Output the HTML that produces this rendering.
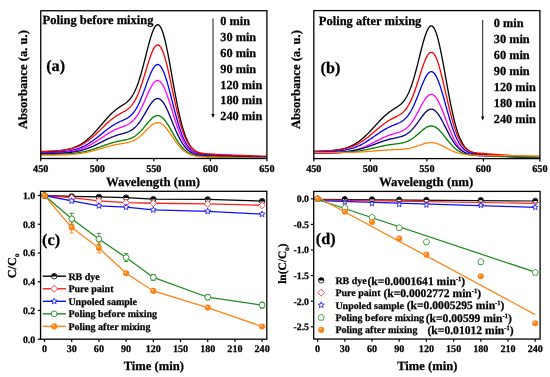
<!DOCTYPE html>
<html><head><meta charset="utf-8"><style>
html,body{margin:0;padding:0;background:#fff;width:550px;height:377px;overflow:hidden}
svg{display:block;filter:blur(0.3px)} text{text-rendering:geometricPrecision}
</style></head><body>
<svg width="550" height="377" viewBox="0 0 550 377">
<rect width="550" height="377" fill="#fff"/>
<path d="M40.8,151.69 L41.8,151.67 L42.8,151.65 L43.8,151.62 L44.8,151.59 L45.8,151.56 L46.8,151.53 L47.8,151.50 L48.8,151.46 L49.8,151.42 L50.8,151.37 L51.8,151.32 L52.8,151.26 L53.8,151.20 L54.8,151.13 L55.8,151.06 L56.8,150.98 L57.8,150.89 L58.8,150.79 L59.8,150.68 L60.8,150.56 L61.8,150.43 L62.8,150.29 L63.8,150.14 L64.8,149.97 L65.8,149.78 L66.8,149.58 L67.8,149.35 L68.8,149.11 L69.8,148.85 L70.8,148.57 L71.8,148.26 L72.8,147.93 L73.8,147.57 L74.8,147.18 L75.8,146.76 L76.8,146.32 L77.8,145.84 L78.8,145.33 L79.8,144.78 L80.8,144.20 L81.8,143.58 L82.8,142.93 L83.8,142.24 L84.8,141.51 L85.8,140.75 L86.8,139.95 L87.8,139.11 L88.8,138.23 L89.8,137.32 L90.8,136.37 L91.8,135.39 L92.8,134.38 L93.8,133.34 L94.8,132.27 L95.8,131.18 L96.8,130.06 L97.8,128.93 L98.8,127.78 L99.8,126.62 L100.8,125.45 L101.8,124.28 L102.8,123.11 L103.8,121.94 L104.8,120.78 L105.8,119.64 L106.8,118.52 L107.8,117.42 L108.8,116.34 L109.8,115.30 L110.8,114.29 L111.8,113.32 L112.8,112.39 L113.8,111.50 L114.8,110.65 L115.8,109.84 L116.8,109.07 L117.8,108.34 L118.8,107.64 L119.8,106.96 L120.8,106.31 L121.8,105.66 L122.8,105.01 L123.8,104.35 L124.8,103.66 L125.8,102.93 L126.8,102.14 L127.8,101.27 L128.8,100.30 L129.8,99.21 L130.8,97.98 L131.8,96.59 L132.8,95.02 L133.8,93.26 L134.8,91.29 L135.8,89.10 L136.8,86.68 L137.8,84.03 L138.8,81.14 L139.8,78.03 L140.8,74.70 L141.8,71.18 L142.8,67.49 L143.8,63.67 L144.8,59.75 L145.8,55.78 L146.8,51.82 L147.8,47.90 L148.8,44.10 L149.8,40.47 L150.8,37.08 L151.8,33.99 L152.8,31.25 L153.8,28.92 L154.8,27.07 L155.8,25.72 L156.8,24.91 L157.8,24.68 L158.8,25.05 L159.8,26.02 L160.8,27.59 L161.8,29.75 L162.8,32.47 L163.8,35.74 L164.8,39.49 L165.8,43.70 L166.8,48.30 L167.8,53.23 L168.8,58.44 L169.8,63.85 L170.8,69.41 L171.8,75.04 L172.8,80.70 L173.8,86.31 L174.8,91.82 L175.8,97.20 L176.8,102.39 L177.8,107.35 L178.8,112.07 L179.8,116.52 L180.8,120.68 L181.8,124.54 L182.8,128.10 L183.8,131.36 L184.8,134.32 L185.8,136.99 L186.8,139.39 L187.8,141.52 L188.8,143.42 L189.8,145.08 L190.8,146.54 L191.8,147.81 L192.8,148.91 L193.8,149.86 L194.8,150.67 L195.8,151.37 L196.8,151.96 L197.8,152.45 L198.8,152.88 L199.8,153.23 L200.8,153.53 L201.8,153.78 L202.8,154.00 L203.8,154.18 L204.8,154.33 L205.8,154.46 L206.8,154.57 L207.8,154.66 L208.8,154.75 L209.8,154.82 L210.8,154.88 L211.8,154.95 L212.8,155.01 L213.8,155.07 L214.8,155.13 L215.8,155.18 L216.8,155.23 L217.8,155.28 L218.8,155.33 L219.8,155.37 L220.8,155.42 L221.8,155.46 L222.8,155.50 L223.8,155.54 L224.8,155.58 L225.8,155.62 L226.8,155.66 L227.8,155.70 L228.8,155.74 L229.8,155.78 L230.8,155.82 L231.8,155.85 L232.8,155.89 L233.8,155.93 L234.8,155.96 L235.8,156.00 L236.8,156.03 L237.8,156.07 L238.8,156.10 L239.8,156.14 L240.8,156.17 L241.8,156.20 L242.8,156.24 L243.8,156.27 L244.8,156.30 L245.8,156.34 L246.8,156.37 L247.8,156.40 L248.8,156.43 L249.8,156.46 L250.8,156.49 L251.8,156.52 L252.8,156.56 L253.8,156.59 L254.8,156.62 L255.8,156.65 L256.8,156.68 L257.8,156.71 L258.8,156.74 L259.8,156.76 L260.8,156.79 L261.8,156.82 L262.8,156.85 L263.8,156.88 L264.8,156.91 L265.8,156.94 L266.8,156.97" fill="none" stroke="#000000" stroke-width="1.3" stroke-linejoin="round"/>
<path d="M40.8,151.44 L41.8,151.42 L42.8,151.40 L43.8,151.38 L44.8,151.35 L45.8,151.33 L46.8,151.30 L47.8,151.27 L48.8,151.24 L49.8,151.20 L50.8,151.16 L51.8,151.12 L52.8,151.07 L53.8,151.02 L54.8,150.96 L55.8,150.90 L56.8,150.83 L57.8,150.75 L58.8,150.67 L59.8,150.58 L60.8,150.48 L61.8,150.37 L62.8,150.25 L63.8,150.12 L64.8,149.97 L65.8,149.82 L66.8,149.64 L67.8,149.46 L68.8,149.26 L69.8,149.03 L70.8,148.80 L71.8,148.54 L72.8,148.26 L73.8,147.95 L74.8,147.63 L75.8,147.28 L76.8,146.90 L77.8,146.50 L78.8,146.07 L79.8,145.61 L80.8,145.13 L81.8,144.61 L82.8,144.06 L83.8,143.48 L84.8,142.87 L85.8,142.23 L86.8,141.56 L87.8,140.85 L88.8,140.12 L89.8,139.35 L90.8,138.56 L91.8,137.74 L92.8,136.89 L93.8,136.02 L94.8,135.12 L95.8,134.20 L96.8,133.27 L97.8,132.31 L98.8,131.35 L99.8,130.38 L100.8,129.40 L101.8,128.41 L102.8,127.43 L103.8,126.45 L104.8,125.48 L105.8,124.52 L106.8,123.58 L107.8,122.66 L108.8,121.76 L109.8,120.88 L110.8,120.04 L111.8,119.22 L112.8,118.44 L113.8,117.69 L114.8,116.98 L115.8,116.30 L116.8,115.65 L117.8,115.04 L118.8,114.45 L119.8,113.88 L120.8,113.33 L121.8,112.79 L122.8,112.25 L123.8,111.69 L124.8,111.12 L125.8,110.50 L126.8,109.84 L127.8,109.10 L128.8,108.29 L129.8,107.38 L130.8,106.34 L131.8,105.18 L132.8,103.87 L133.8,102.39 L134.8,100.74 L135.8,98.90 L136.8,96.87 L137.8,94.65 L138.8,92.22 L139.8,89.61 L140.8,86.83 L141.8,83.87 L142.8,80.78 L143.8,77.58 L144.8,74.29 L145.8,70.97 L146.8,67.64 L147.8,64.36 L148.8,61.17 L149.8,58.13 L150.8,55.28 L151.8,52.69 L152.8,50.39 L153.8,48.45 L154.8,46.89 L155.8,45.75 L156.8,45.08 L157.8,44.89 L158.8,45.19 L159.8,46.00 L160.8,47.32 L161.8,49.13 L162.8,51.41 L163.8,54.15 L164.8,57.30 L165.8,60.82 L166.8,64.68 L167.8,68.81 L168.8,73.17 L169.8,77.71 L170.8,82.37 L171.8,87.09 L172.8,91.83 L173.8,96.53 L174.8,101.15 L175.8,105.66 L176.8,110.00 L177.8,114.17 L178.8,118.12 L179.8,121.85 L180.8,125.34 L181.8,128.57 L182.8,131.55 L183.8,134.28 L184.8,136.76 L185.8,139.00 L186.8,141.01 L187.8,142.80 L188.8,144.39 L189.8,145.78 L190.8,147.01 L191.8,148.07 L192.8,148.99 L193.8,149.79 L194.8,150.47 L195.8,151.05 L196.8,151.54 L197.8,151.96 L198.8,152.31 L199.8,152.61 L200.8,152.86 L201.8,153.07 L202.8,153.25 L203.8,153.39 L204.8,153.52 L205.8,153.63 L206.8,153.72 L207.8,153.80 L208.8,153.87 L209.8,153.93 L210.8,153.98 L211.8,154.05 L212.8,154.11 L213.8,154.17 L214.8,154.23 L215.8,154.28 L216.8,154.33 L217.8,154.38 L218.8,154.43 L219.8,154.48 L220.8,154.53 L221.8,154.57 L222.8,154.62 L223.8,154.66 L224.8,154.71 L225.8,154.75 L226.8,154.79 L227.8,154.83 L228.8,154.88 L229.8,154.92 L230.8,154.96 L231.8,155.00 L232.8,155.04 L233.8,155.08 L234.8,155.12 L235.8,155.16 L236.8,155.20 L237.8,155.24 L238.8,155.28 L239.8,155.31 L240.8,155.35 L241.8,155.39 L242.8,155.43 L243.8,155.46 L244.8,155.50 L245.8,155.54 L246.8,155.58 L247.8,155.61 L248.8,155.65 L249.8,155.68 L250.8,155.72 L251.8,155.75 L252.8,155.79 L253.8,155.83 L254.8,155.86 L255.8,155.90 L256.8,155.93 L257.8,155.96 L258.8,156.00 L259.8,156.03 L260.8,156.07 L261.8,156.10 L262.8,156.14 L263.8,156.17 L264.8,156.20 L265.8,156.24 L266.8,156.27" fill="none" stroke="#ff0000" stroke-width="1.3" stroke-linejoin="round"/>
<path d="M40.8,152.66 L41.8,152.65 L42.8,152.64 L43.8,152.63 L44.8,152.61 L45.8,152.59 L46.8,152.58 L47.8,152.55 L48.8,152.53 L49.8,152.50 L50.8,152.48 L51.8,152.44 L52.8,152.41 L53.8,152.37 L54.8,152.32 L55.8,152.28 L56.8,152.22 L57.8,152.16 L58.8,152.10 L59.8,152.03 L60.8,151.95 L61.8,151.86 L62.8,151.76 L63.8,151.66 L64.8,151.54 L65.8,151.42 L66.8,151.28 L67.8,151.13 L68.8,150.96 L69.8,150.78 L70.8,150.59 L71.8,150.38 L72.8,150.15 L73.8,149.90 L74.8,149.63 L75.8,149.35 L76.8,149.04 L77.8,148.71 L78.8,148.36 L79.8,147.98 L80.8,147.58 L81.8,147.15 L82.8,146.70 L83.8,146.22 L84.8,145.72 L85.8,145.19 L86.8,144.63 L87.8,144.05 L88.8,143.44 L89.8,142.81 L90.8,142.15 L91.8,141.47 L92.8,140.77 L93.8,140.05 L94.8,139.31 L95.8,138.55 L96.8,137.77 L97.8,136.98 L98.8,136.19 L99.8,135.38 L100.8,134.57 L101.8,133.75 L102.8,132.94 L103.8,132.13 L104.8,131.33 L105.8,130.53 L106.8,129.75 L107.8,128.99 L108.8,128.25 L109.8,127.52 L110.8,126.82 L111.8,126.15 L112.8,125.50 L113.8,124.88 L114.8,124.29 L115.8,123.73 L116.8,123.20 L117.8,122.69 L118.8,122.21 L119.8,121.74 L120.8,121.28 L121.8,120.84 L122.8,120.39 L123.8,119.93 L124.8,119.46 L125.8,118.95 L126.8,118.40 L127.8,117.79 L128.8,117.12 L129.8,116.36 L130.8,115.51 L131.8,114.55 L132.8,113.46 L133.8,112.23 L134.8,110.86 L135.8,109.34 L136.8,107.65 L137.8,105.80 L138.8,103.79 L139.8,101.63 L140.8,99.31 L141.8,96.86 L142.8,94.29 L143.8,91.63 L144.8,88.90 L145.8,86.14 L146.8,83.37 L147.8,80.64 L148.8,78.00 L149.8,75.47 L150.8,73.11 L151.8,70.95 L152.8,69.05 L153.8,67.43 L154.8,66.14 L155.8,65.20 L156.8,64.64 L157.8,64.49 L158.8,64.74 L159.8,65.42 L160.8,66.52 L161.8,68.03 L162.8,69.94 L163.8,72.21 L164.8,74.84 L165.8,77.78 L166.8,80.99 L167.8,84.43 L168.8,88.07 L169.8,91.84 L170.8,95.72 L171.8,99.66 L172.8,103.60 L173.8,107.52 L174.8,111.37 L175.8,115.12 L176.8,118.74 L177.8,122.21 L178.8,125.50 L179.8,128.61 L180.8,131.51 L181.8,134.21 L182.8,136.69 L183.8,138.97 L184.8,141.04 L185.8,142.90 L186.8,144.58 L187.8,146.07 L188.8,147.40 L189.8,148.56 L190.8,149.58 L191.8,150.47 L192.8,151.24 L193.8,151.91 L194.8,152.48 L195.8,152.97 L196.8,153.38 L197.8,153.73 L198.8,154.03 L199.8,154.28 L200.8,154.49 L201.8,154.67 L202.8,154.82 L203.8,154.95 L204.8,155.06 L205.8,155.15 L206.8,155.24 L207.8,155.31 L208.8,155.37 L209.8,155.42 L210.8,155.47 L211.8,155.52 L212.8,155.57 L213.8,155.62 L214.8,155.66 L215.8,155.70 L216.8,155.74 L217.8,155.78 L218.8,155.81 L219.8,155.85 L220.8,155.89 L221.8,155.92 L222.8,155.96 L223.8,155.99 L224.8,156.02 L225.8,156.05 L226.8,156.09 L227.8,156.12 L228.8,156.15 L229.8,156.18 L230.8,156.21 L231.8,156.24 L232.8,156.27 L233.8,156.30 L234.8,156.33 L235.8,156.36 L236.8,156.39 L237.8,156.42 L238.8,156.45 L239.8,156.48 L240.8,156.50 L241.8,156.53 L242.8,156.56 L243.8,156.59 L244.8,156.61 L245.8,156.64 L246.8,156.67 L247.8,156.69 L248.8,156.72 L249.8,156.75 L250.8,156.77 L251.8,156.80 L252.8,156.83 L253.8,156.85 L254.8,156.88 L255.8,156.90 L256.8,156.93 L257.8,156.95 L258.8,156.98 L259.8,157.00 L260.8,157.03 L261.8,157.05 L262.8,157.08 L263.8,157.10 L264.8,157.13 L265.8,157.15 L266.8,157.18" fill="none" stroke="#0000ff" stroke-width="1.3" stroke-linejoin="round"/>
<path d="M40.8,153.27 L41.8,153.27 L42.8,153.26 L43.8,153.25 L44.8,153.23 L45.8,153.22 L46.8,153.20 L47.8,153.19 L48.8,153.17 L49.8,153.15 L50.8,153.12 L51.8,153.10 L52.8,153.07 L53.8,153.03 L54.8,153.00 L55.8,152.96 L56.8,152.92 L57.8,152.87 L58.8,152.81 L59.8,152.75 L60.8,152.69 L61.8,152.62 L62.8,152.54 L63.8,152.45 L64.8,152.36 L65.8,152.25 L66.8,152.14 L67.8,152.01 L68.8,151.88 L69.8,151.73 L70.8,151.57 L71.8,151.40 L72.8,151.21 L73.8,151.00 L74.8,150.78 L75.8,150.55 L76.8,150.29 L77.8,150.02 L78.8,149.73 L79.8,149.42 L80.8,149.09 L81.8,148.73 L82.8,148.36 L83.8,147.97 L84.8,147.55 L85.8,147.11 L86.8,146.66 L87.8,146.18 L88.8,145.67 L89.8,145.15 L90.8,144.61 L91.8,144.05 L92.8,143.47 L93.8,142.87 L94.8,142.26 L95.8,141.63 L96.8,140.99 L97.8,140.34 L98.8,139.68 L99.8,139.02 L100.8,138.35 L101.8,137.68 L102.8,137.01 L103.8,136.34 L104.8,135.67 L105.8,135.02 L106.8,134.38 L107.8,133.74 L108.8,133.13 L109.8,132.53 L110.8,131.95 L111.8,131.40 L112.8,130.86 L113.8,130.35 L114.8,129.87 L115.8,129.40 L116.8,128.96 L117.8,128.55 L118.8,128.14 L119.8,127.76 L120.8,127.38 L121.8,127.02 L122.8,126.65 L123.8,126.27 L124.8,125.88 L125.8,125.46 L126.8,125.00 L127.8,124.50 L128.8,123.95 L129.8,123.32 L130.8,122.62 L131.8,121.82 L132.8,120.92 L133.8,119.91 L134.8,118.78 L135.8,117.52 L136.8,116.13 L137.8,114.61 L138.8,112.95 L139.8,111.16 L140.8,109.24 L141.8,107.22 L142.8,105.10 L143.8,102.90 L144.8,100.65 L145.8,98.36 L146.8,96.08 L147.8,93.83 L148.8,91.64 L149.8,89.56 L150.8,87.61 L151.8,85.83 L152.8,84.25 L153.8,82.92 L154.8,81.85 L155.8,81.08 L156.8,80.62 L157.8,80.49 L158.8,80.70 L159.8,81.26 L160.8,82.17 L161.8,83.42 L162.8,84.99 L163.8,86.87 L164.8,89.04 L165.8,91.47 L166.8,94.12 L167.8,96.96 L168.8,99.96 L169.8,103.09 L170.8,106.29 L171.8,109.54 L172.8,112.80 L173.8,116.03 L174.8,119.21 L175.8,122.31 L176.8,125.30 L177.8,128.17 L178.8,130.89 L179.8,133.45 L180.8,135.85 L181.8,138.08 L182.8,140.13 L183.8,142.01 L184.8,143.72 L185.8,145.26 L186.8,146.64 L187.8,147.88 L188.8,148.97 L189.8,149.93 L190.8,150.78 L191.8,151.51 L192.8,152.15 L193.8,152.70 L194.8,153.17 L195.8,153.57 L196.8,153.91 L197.8,154.21 L198.8,154.45 L199.8,154.66 L200.8,154.84 L201.8,154.98 L202.8,155.11 L203.8,155.22 L204.8,155.31 L205.8,155.38 L206.8,155.45 L207.8,155.51 L208.8,155.56 L209.8,155.60 L210.8,155.64 L211.8,155.69 L212.8,155.74 L213.8,155.78 L214.8,155.82 L215.8,155.85 L216.8,155.89 L217.8,155.93 L218.8,155.96 L219.8,156.00 L220.8,156.03 L221.8,156.06 L222.8,156.09 L223.8,156.13 L224.8,156.16 L225.8,156.19 L226.8,156.22 L227.8,156.25 L228.8,156.28 L229.8,156.31 L230.8,156.34 L231.8,156.37 L232.8,156.40 L233.8,156.42 L234.8,156.45 L235.8,156.48 L236.8,156.51 L237.8,156.54 L238.8,156.56 L239.8,156.59 L240.8,156.62 L241.8,156.65 L242.8,156.67 L243.8,156.70 L244.8,156.73 L245.8,156.75 L246.8,156.78 L247.8,156.81 L248.8,156.83 L249.8,156.86 L250.8,156.88 L251.8,156.91 L252.8,156.93 L253.8,156.96 L254.8,156.98 L255.8,157.01 L256.8,157.03 L257.8,157.06 L258.8,157.08 L259.8,157.11 L260.8,157.13 L261.8,157.16 L262.8,157.18 L263.8,157.21 L264.8,157.23 L265.8,157.26 L266.8,157.28" fill="none" stroke="#ff00ff" stroke-width="1.3" stroke-linejoin="round"/>
<path d="M40.8,153.60 L41.8,153.60 L42.8,153.59 L43.8,153.59 L44.8,153.58 L45.8,153.57 L46.8,153.56 L47.8,153.55 L48.8,153.54 L49.8,153.53 L50.8,153.51 L51.8,153.50 L52.8,153.48 L53.8,153.46 L54.8,153.43 L55.8,153.41 L56.8,153.38 L57.8,153.34 L58.8,153.30 L59.8,153.26 L60.8,153.22 L61.8,153.16 L62.8,153.11 L63.8,153.04 L64.8,152.97 L65.8,152.90 L66.8,152.81 L67.8,152.72 L68.8,152.62 L69.8,152.51 L70.8,152.39 L71.8,152.26 L72.8,152.12 L73.8,151.97 L74.8,151.81 L75.8,151.63 L76.8,151.44 L77.8,151.23 L78.8,151.01 L79.8,150.78 L80.8,150.53 L81.8,150.27 L82.8,149.98 L83.8,149.69 L84.8,149.37 L85.8,149.04 L86.8,148.70 L87.8,148.33 L88.8,147.95 L89.8,147.56 L90.8,147.15 L91.8,146.72 L92.8,146.29 L93.8,145.83 L94.8,145.37 L95.8,144.90 L96.8,144.41 L97.8,143.92 L98.8,143.42 L99.8,142.92 L100.8,142.41 L101.8,141.90 L102.8,141.39 L103.8,140.88 L104.8,140.38 L105.8,139.89 L106.8,139.40 L107.8,138.92 L108.8,138.46 L109.8,138.00 L110.8,137.57 L111.8,137.15 L112.8,136.74 L113.8,136.36 L114.8,135.99 L115.8,135.64 L116.8,135.31 L117.8,134.99 L118.8,134.69 L119.8,134.40 L120.8,134.11 L121.8,133.84 L122.8,133.56 L123.8,133.27 L124.8,132.98 L125.8,132.66 L126.8,132.32 L127.8,131.94 L128.8,131.52 L129.8,131.05 L130.8,130.51 L131.8,129.91 L132.8,129.23 L133.8,128.46 L134.8,127.60 L135.8,126.64 L136.8,125.59 L137.8,124.43 L138.8,123.17 L139.8,121.80 L140.8,120.35 L141.8,118.81 L142.8,117.20 L143.8,115.53 L144.8,113.81 L145.8,112.07 L146.8,110.34 L147.8,108.62 L148.8,106.96 L149.8,105.37 L150.8,103.89 L151.8,102.54 L152.8,101.34 L153.8,100.33 L154.8,99.52 L155.8,98.93 L156.8,98.58 L157.8,98.49 L158.8,98.65 L159.8,99.08 L160.8,99.78 L161.8,100.73 L162.8,101.93 L163.8,103.37 L164.8,105.03 L165.8,106.88 L166.8,108.90 L167.8,111.07 L168.8,113.37 L169.8,115.75 L170.8,118.19 L171.8,120.67 L172.8,123.16 L173.8,125.62 L174.8,128.05 L175.8,130.42 L176.8,132.70 L177.8,134.89 L178.8,136.96 L179.8,138.92 L180.8,140.75 L181.8,142.45 L182.8,144.02 L183.8,145.45 L184.8,146.76 L185.8,147.94 L186.8,149.00 L187.8,149.94 L188.8,150.78 L189.8,151.51 L190.8,152.16 L191.8,152.72 L192.8,153.21 L193.8,153.63 L194.8,153.99 L195.8,154.30 L196.8,154.57 L197.8,154.79 L198.8,154.98 L199.8,155.14 L200.8,155.28 L201.8,155.40 L202.8,155.50 L203.8,155.58 L204.8,155.65 L205.8,155.71 L206.8,155.77 L207.8,155.82 L208.8,155.86 L209.8,155.90 L210.8,155.93 L211.8,155.97 L212.8,156.01 L213.8,156.04 L214.8,156.08 L215.8,156.11 L216.8,156.14 L217.8,156.17 L218.8,156.20 L219.8,156.23 L220.8,156.26 L221.8,156.29 L222.8,156.32 L223.8,156.34 L224.8,156.37 L225.8,156.40 L226.8,156.43 L227.8,156.45 L228.8,156.48 L229.8,156.51 L230.8,156.53 L231.8,156.56 L232.8,156.58 L233.8,156.61 L234.8,156.63 L235.8,156.66 L236.8,156.69 L237.8,156.71 L238.8,156.73 L239.8,156.76 L240.8,156.78 L241.8,156.81 L242.8,156.83 L243.8,156.86 L244.8,156.88 L245.8,156.90 L246.8,156.93 L247.8,156.95 L248.8,156.98 L249.8,157.00 L250.8,157.02 L251.8,157.05 L252.8,157.07 L253.8,157.09 L254.8,157.11 L255.8,157.14 L256.8,157.16 L257.8,157.18 L258.8,157.21 L259.8,157.23 L260.8,157.25 L261.8,157.27 L262.8,157.30 L263.8,157.32 L264.8,157.34 L265.8,157.36 L266.8,157.38" fill="none" stroke="#000080" stroke-width="1.3" stroke-linejoin="round"/>
<path d="M40.8,154.42 L41.8,154.42 L42.8,154.42 L43.8,154.42 L44.8,154.41 L45.8,154.41 L46.8,154.41 L47.8,154.40 L48.8,154.40 L49.8,154.39 L50.8,154.39 L51.8,154.38 L52.8,154.37 L53.8,154.35 L54.8,154.34 L55.8,154.32 L56.8,154.31 L57.8,154.29 L58.8,154.26 L59.8,154.23 L60.8,154.20 L61.8,154.17 L62.8,154.13 L63.8,154.09 L64.8,154.05 L65.8,153.99 L66.8,153.94 L67.8,153.88 L68.8,153.81 L69.8,153.73 L70.8,153.65 L71.8,153.56 L72.8,153.47 L73.8,153.36 L74.8,153.25 L75.8,153.12 L76.8,152.99 L77.8,152.85 L78.8,152.70 L79.8,152.53 L80.8,152.36 L81.8,152.17 L82.8,151.98 L83.8,151.77 L84.8,151.55 L85.8,151.32 L86.8,151.07 L87.8,150.82 L88.8,150.55 L89.8,150.27 L90.8,149.99 L91.8,149.69 L92.8,149.38 L93.8,149.06 L94.8,148.73 L95.8,148.40 L96.8,148.06 L97.8,147.71 L98.8,147.36 L99.8,147.00 L100.8,146.65 L101.8,146.29 L102.8,145.93 L103.8,145.57 L104.8,145.22 L105.8,144.87 L106.8,144.52 L107.8,144.19 L108.8,143.86 L109.8,143.54 L110.8,143.23 L111.8,142.94 L112.8,142.65 L113.8,142.38 L114.8,142.12 L115.8,141.88 L116.8,141.64 L117.8,141.42 L118.8,141.21 L119.8,141.01 L120.8,140.81 L121.8,140.61 L122.8,140.42 L123.8,140.22 L124.8,140.01 L125.8,139.79 L126.8,139.55 L127.8,139.29 L128.8,138.99 L129.8,138.66 L130.8,138.28 L131.8,137.85 L132.8,137.37 L133.8,136.83 L134.8,136.22 L135.8,135.54 L136.8,134.80 L137.8,133.97 L138.8,133.08 L139.8,132.11 L140.8,131.08 L141.8,129.99 L142.8,128.85 L143.8,127.66 L144.8,126.45 L145.8,125.21 L146.8,123.98 L147.8,122.77 L148.8,121.59 L149.8,120.46 L150.8,119.41 L151.8,118.45 L152.8,117.60 L153.8,116.88 L154.8,116.31 L155.8,115.90 L156.8,115.65 L157.8,115.59 L158.8,115.71 L159.8,116.02 L160.8,116.52 L161.8,117.20 L162.8,118.06 L163.8,119.08 L164.8,120.26 L165.8,121.58 L166.8,123.02 L167.8,124.57 L168.8,126.20 L169.8,127.90 L170.8,129.64 L171.8,131.41 L172.8,133.18 L173.8,134.94 L174.8,136.67 L175.8,138.35 L176.8,139.98 L177.8,141.54 L178.8,143.02 L179.8,144.41 L180.8,145.72 L181.8,146.93 L182.8,148.05 L183.8,149.07 L184.8,150.00 L185.8,150.85 L186.8,151.60 L187.8,152.27 L188.8,152.87 L189.8,153.40 L190.8,153.86 L191.8,154.27 L192.8,154.62 L193.8,154.92 L194.8,155.18 L195.8,155.40 L196.8,155.59 L197.8,155.76 L198.8,155.90 L199.8,156.01 L200.8,156.12 L201.8,156.20 L202.8,156.27 L203.8,156.34 L204.8,156.39 L205.8,156.44 L206.8,156.48 L207.8,156.52 L208.8,156.55 L209.8,156.58 L210.8,156.61 L211.8,156.64 L212.8,156.67 L213.8,156.70 L214.8,156.72 L215.8,156.75 L216.8,156.77 L217.8,156.80 L218.8,156.82 L219.8,156.85 L220.8,156.87 L221.8,156.89 L222.8,156.91 L223.8,156.94 L224.8,156.96 L225.8,156.98 L226.8,157.00 L227.8,157.02 L228.8,157.05 L229.8,157.07 L230.8,157.09 L231.8,157.11 L232.8,157.13 L233.8,157.15 L234.8,157.17 L235.8,157.19 L236.8,157.21 L237.8,157.23 L238.8,157.25 L239.8,157.27 L240.8,157.29 L241.8,157.31 L242.8,157.33 L243.8,157.35 L244.8,157.37 L245.8,157.39 L246.8,157.41 L247.8,157.43 L248.8,157.45 L249.8,157.47 L250.8,157.49 L251.8,157.51 L252.8,157.53 L253.8,157.55 L254.8,157.57 L255.8,157.58 L256.8,157.60 L257.8,157.62 L258.8,157.64 L259.8,157.66 L260.8,157.68 L261.8,157.70 L262.8,157.71 L263.8,157.73 L264.8,157.75 L265.8,157.77 L266.8,157.79" fill="none" stroke="#008000" stroke-width="1.3" stroke-linejoin="round"/>
<path d="M40.8,155.06 L41.8,155.06 L42.8,155.06 L43.8,155.07 L44.8,155.07 L45.8,155.07 L46.8,155.06 L47.8,155.06 L48.8,155.06 L49.8,155.06 L50.8,155.05 L51.8,155.05 L52.8,155.04 L53.8,155.03 L54.8,155.02 L55.8,155.01 L56.8,154.99 L57.8,154.98 L58.8,154.96 L59.8,154.94 L60.8,154.91 L61.8,154.89 L62.8,154.86 L63.8,154.82 L64.8,154.79 L65.8,154.74 L66.8,154.70 L67.8,154.65 L68.8,154.59 L69.8,154.53 L70.8,154.46 L71.8,154.39 L72.8,154.31 L73.8,154.22 L74.8,154.13 L75.8,154.03 L76.8,153.92 L77.8,153.80 L78.8,153.67 L79.8,153.54 L80.8,153.39 L81.8,153.24 L82.8,153.08 L83.8,152.90 L84.8,152.72 L85.8,152.53 L86.8,152.33 L87.8,152.11 L88.8,151.89 L89.8,151.66 L90.8,151.42 L91.8,151.17 L92.8,150.91 L93.8,150.65 L94.8,150.38 L95.8,150.10 L96.8,149.81 L97.8,149.52 L98.8,149.23 L99.8,148.93 L100.8,148.63 L101.8,148.34 L102.8,148.04 L103.8,147.74 L104.8,147.44 L105.8,147.15 L106.8,146.87 L107.8,146.58 L108.8,146.31 L109.8,146.05 L110.8,145.79 L111.8,145.54 L112.8,145.31 L113.8,145.08 L114.8,144.86 L115.8,144.66 L116.8,144.47 L117.8,144.28 L118.8,144.11 L119.8,143.94 L120.8,143.77 L121.8,143.61 L122.8,143.45 L123.8,143.28 L124.8,143.11 L125.8,142.93 L126.8,142.73 L127.8,142.51 L128.8,142.26 L129.8,141.98 L130.8,141.67 L131.8,141.31 L132.8,140.91 L133.8,140.46 L134.8,139.95 L135.8,139.38 L136.8,138.76 L137.8,138.07 L138.8,137.32 L139.8,136.51 L140.8,135.65 L141.8,134.74 L142.8,133.78 L143.8,132.79 L144.8,131.77 L145.8,130.74 L146.8,129.71 L147.8,128.69 L148.8,127.70 L149.8,126.76 L150.8,125.88 L151.8,125.08 L152.8,124.37 L153.8,123.77 L154.8,123.29 L155.8,122.94 L156.8,122.74 L157.8,122.69 L158.8,122.79 L159.8,123.05 L160.8,123.47 L161.8,124.04 L162.8,124.76 L163.8,125.62 L164.8,126.61 L165.8,127.72 L166.8,128.93 L167.8,130.23 L168.8,131.60 L169.8,133.02 L170.8,134.48 L171.8,135.97 L172.8,137.45 L173.8,138.93 L174.8,140.38 L175.8,141.79 L176.8,143.16 L177.8,144.46 L178.8,145.70 L179.8,146.88 L180.8,147.97 L181.8,148.99 L182.8,149.93 L183.8,150.79 L184.8,151.57 L185.8,152.27 L186.8,152.91 L187.8,153.48 L188.8,153.98 L189.8,154.42 L190.8,154.81 L191.8,155.15 L192.8,155.45 L193.8,155.70 L194.8,155.92 L195.8,156.11 L196.8,156.27 L197.8,156.41 L198.8,156.53 L199.8,156.63 L200.8,156.71 L201.8,156.79 L202.8,156.85 L203.8,156.90 L204.8,156.95 L205.8,156.99 L206.8,157.03 L207.8,157.06 L208.8,157.09 L209.8,157.11 L210.8,157.14 L211.8,157.16 L212.8,157.18 L213.8,157.20 L214.8,157.22 L215.8,157.24 L216.8,157.26 L217.8,157.28 L218.8,157.30 L219.8,157.32 L220.8,157.33 L221.8,157.35 L222.8,157.37 L223.8,157.38 L224.8,157.40 L225.8,157.41 L226.8,157.43 L227.8,157.45 L228.8,157.46 L229.8,157.48 L230.8,157.49 L231.8,157.51 L232.8,157.52 L233.8,157.54 L234.8,157.55 L235.8,157.57 L236.8,157.58 L237.8,157.60 L238.8,157.61 L239.8,157.63 L240.8,157.64 L241.8,157.65 L242.8,157.67 L243.8,157.68 L244.8,157.70 L245.8,157.71 L246.8,157.72 L247.8,157.74 L248.8,157.75 L249.8,157.77 L250.8,157.78 L251.8,157.79 L252.8,157.81 L253.8,157.82 L254.8,157.83 L255.8,157.85 L256.8,157.86 L257.8,157.87 L258.8,157.89 L259.8,157.90 L260.8,157.91 L261.8,157.93 L262.8,157.94 L263.8,157.95 L264.8,157.96 L265.8,157.98 L266.8,157.99" fill="none" stroke="#ff8000" stroke-width="1.3" stroke-linejoin="round"/>
<rect x="40.75" y="10.75" width="226.14999999999998" height="147.75" fill="none" stroke="#000" stroke-width="1.3"/>
<line x1="40.75" y1="158.5" x2="40.75" y2="161.3" stroke="#000" stroke-width="1.2"/>
<text x="40.75" y="171.6" font-size="10.2" text-anchor="middle" font-family="Liberation Serif" font-weight="bold" stroke="#000" stroke-width="0.25" >450</text>
<line x1="97.2875" y1="158.5" x2="97.2875" y2="161.3" stroke="#000" stroke-width="1.2"/>
<text x="97.2875" y="171.6" font-size="10.2" text-anchor="middle" font-family="Liberation Serif" font-weight="bold" stroke="#000" stroke-width="0.25" >500</text>
<line x1="153.825" y1="158.5" x2="153.825" y2="161.3" stroke="#000" stroke-width="1.2"/>
<text x="153.825" y="171.6" font-size="10.2" text-anchor="middle" font-family="Liberation Serif" font-weight="bold" stroke="#000" stroke-width="0.25" >550</text>
<line x1="210.36249999999998" y1="158.5" x2="210.36249999999998" y2="161.3" stroke="#000" stroke-width="1.2"/>
<text x="210.36249999999998" y="171.6" font-size="10.2" text-anchor="middle" font-family="Liberation Serif" font-weight="bold" stroke="#000" stroke-width="0.25" >600</text>
<line x1="266.9" y1="158.5" x2="266.9" y2="161.3" stroke="#000" stroke-width="1.2"/>
<text x="266.9" y="171.6" font-size="10.2" text-anchor="middle" font-family="Liberation Serif" font-weight="bold" stroke="#000" stroke-width="0.25" >650</text>
<text x="153.05" y="185.6" font-size="12.8" text-anchor="middle" font-family="Liberation Serif" font-weight="bold" stroke="#000" stroke-width="0.25" >Wavelength (nm)</text>
<text x="42.6" y="23.5" font-size="12.5" text-anchor="start" font-family="Liberation Serif" font-weight="bold" stroke="#000" stroke-width="0.25" >Poling before mixing</text>
<text x="46.2" y="71.1" font-size="16.2" text-anchor="start" font-family="Liberation Serif" font-weight="bold" stroke="#000" stroke-width="0.25" >(a)</text>
<line x1="213" y1="18.4" x2="213" y2="115.30000000000001" stroke="#000" stroke-width="0.9"/>
<path d="M211.4,114.10000000000001 L213,118.10000000000001 L214.6,114.10000000000001 Z" fill="#000"/>
<text x="220.3" y="24.9" font-size="12.3" text-anchor="start" font-family="Liberation Serif" font-weight="bold" stroke="#000" stroke-width="0.25" >0 min</text>
<text x="220.3" y="40.8" font-size="12.3" text-anchor="start" font-family="Liberation Serif" font-weight="bold" stroke="#000" stroke-width="0.25" >30 min</text>
<text x="220.3" y="56.7" font-size="12.3" text-anchor="start" font-family="Liberation Serif" font-weight="bold" stroke="#000" stroke-width="0.25" >60 min</text>
<text x="220.3" y="72.6" font-size="12.3" text-anchor="start" font-family="Liberation Serif" font-weight="bold" stroke="#000" stroke-width="0.25" >90 min</text>
<text x="220.3" y="88.5" font-size="12.3" text-anchor="start" font-family="Liberation Serif" font-weight="bold" stroke="#000" stroke-width="0.25" >120 min</text>
<text x="220.3" y="104.4" font-size="12.3" text-anchor="start" font-family="Liberation Serif" font-weight="bold" stroke="#000" stroke-width="0.25" >180 min</text>
<text x="220.3" y="120.30000000000001" font-size="12.3" text-anchor="start" font-family="Liberation Serif" font-weight="bold" stroke="#000" stroke-width="0.25" >240 min</text>
<text x="27.3" y="79.6" font-size="12.65" text-anchor="middle" font-family="Liberation Serif" font-weight="bold" stroke="#000" stroke-width="0.25" transform="rotate(-90 27.3 79.6)">Absorbance (a. u.)</text>
<path d="M313.8,151.41 L314.8,151.39 L315.8,151.37 L316.8,151.35 L317.8,151.32 L318.8,151.29 L319.8,151.26 L320.8,151.23 L321.8,151.19 L322.8,151.15 L323.8,151.11 L324.8,151.06 L325.8,151.01 L326.8,150.95 L327.8,150.89 L328.8,150.82 L329.8,150.75 L330.8,150.66 L331.8,150.57 L332.8,150.48 L333.8,150.37 L334.8,150.25 L335.8,150.12 L336.8,149.98 L337.8,149.82 L338.8,149.65 L339.8,149.47 L340.8,149.27 L341.8,149.05 L342.8,148.81 L343.8,148.55 L344.8,148.28 L345.8,147.97 L346.8,147.65 L347.8,147.30 L348.8,146.92 L349.8,146.51 L350.8,146.08 L351.8,145.61 L352.8,145.12 L353.8,144.59 L354.8,144.03 L355.8,143.43 L356.8,142.80 L357.8,142.14 L358.8,141.44 L359.8,140.70 L360.8,139.93 L361.8,139.13 L362.8,138.29 L363.8,137.42 L364.8,136.52 L365.8,135.59 L366.8,134.62 L367.8,133.64 L368.8,132.62 L369.8,131.59 L370.8,130.53 L371.8,129.47 L372.8,128.38 L373.8,127.29 L374.8,126.20 L375.8,125.10 L376.8,124.00 L377.8,122.92 L378.8,121.84 L379.8,120.78 L380.8,119.74 L381.8,118.72 L382.8,117.73 L383.8,116.77 L384.8,115.84 L385.8,114.94 L386.8,114.09 L387.8,113.27 L388.8,112.48 L389.8,111.74 L390.8,111.03 L391.8,110.34 L392.8,109.69 L393.8,109.05 L394.8,108.41 L395.8,107.78 L396.8,107.14 L397.8,106.47 L398.8,105.76 L399.8,105.00 L400.8,104.16 L401.8,103.22 L402.8,102.18 L403.8,101.00 L404.8,99.67 L405.8,98.16 L406.8,96.47 L407.8,94.57 L408.8,92.45 L409.8,90.11 L410.8,87.53 L411.8,84.71 L412.8,81.67 L413.8,78.40 L414.8,74.93 L415.8,71.27 L416.8,67.47 L417.8,63.54 L418.8,59.55 L419.8,55.52 L420.8,51.53 L421.8,47.61 L422.8,43.84 L423.8,40.28 L424.8,36.98 L425.8,34.00 L426.8,31.41 L427.8,29.26 L428.8,27.60 L429.8,26.47 L430.8,25.89 L431.8,25.90 L432.8,26.51 L433.8,27.72 L434.8,29.53 L435.8,31.91 L436.8,34.85 L437.8,38.30 L438.8,42.22 L439.8,46.57 L440.8,51.28 L441.8,56.30 L442.8,61.55 L443.8,66.98 L444.8,72.52 L445.8,78.12 L446.8,83.70 L447.8,89.21 L448.8,94.61 L449.8,99.85 L450.8,104.89 L451.8,109.69 L452.8,114.23 L453.8,118.50 L454.8,122.47 L455.8,126.15 L456.8,129.53 L457.8,132.61 L458.8,135.40 L459.8,137.91 L460.8,140.15 L461.8,142.15 L462.8,143.91 L463.8,145.46 L464.8,146.80 L465.8,147.98 L466.8,148.99 L467.8,149.86 L468.8,150.60 L469.8,151.23 L470.8,151.77 L471.8,152.22 L472.8,152.61 L473.8,152.93 L474.8,153.20 L475.8,153.43 L476.8,153.62 L477.8,153.78 L478.8,153.92 L479.8,154.03 L480.8,154.14 L481.8,154.22 L482.8,154.30 L483.8,154.37 L484.8,154.46 L485.8,154.55 L486.8,154.63 L487.8,154.71 L488.8,154.79 L489.8,154.86 L490.8,154.93 L491.8,155.00 L492.8,155.07 L493.8,155.14 L494.8,155.21 L495.8,155.27 L496.8,155.34 L497.8,155.40 L498.8,155.47 L499.8,155.53 L500.8,155.59 L501.8,155.65 L502.8,155.72 L503.8,155.78 L504.8,155.84 L505.8,155.90 L506.8,155.96 L507.8,156.02 L508.8,156.08 L509.8,156.13 L510.8,156.19 L511.8,156.25 L512.8,156.31 L513.8,156.36 L514.8,156.42 L515.8,156.48 L516.8,156.53 L517.8,156.59 L518.8,156.65 L519.8,156.70 L520.8,156.76 L521.8,156.81 L522.8,156.87 L523.8,156.92 L524.8,156.97 L525.8,157.03 L526.8,157.08 L527.8,157.14 L528.8,157.19 L529.8,157.24 L530.8,157.29 L531.8,157.35 L532.8,157.40 L533.8,157.45 L534.8,157.51 L535.8,157.56 L536.8,157.61 L537.8,157.66 L538.8,157.71 L539.8,157.77" fill="none" stroke="#000000" stroke-width="1.3" stroke-linejoin="round"/>
<path d="M313.8,151.20 L314.8,151.19 L315.8,151.17 L316.8,151.15 L317.8,151.13 L318.8,151.11 L319.8,151.08 L320.8,151.06 L321.8,151.03 L322.8,150.99 L323.8,150.96 L324.8,150.92 L325.8,150.88 L326.8,150.84 L327.8,150.79 L328.8,150.73 L329.8,150.67 L330.8,150.61 L331.8,150.54 L332.8,150.46 L333.8,150.37 L334.8,150.28 L335.8,150.18 L336.8,150.07 L337.8,149.95 L338.8,149.81 L339.8,149.67 L340.8,149.51 L341.8,149.34 L342.8,149.15 L343.8,148.94 L344.8,148.72 L345.8,148.49 L346.8,148.23 L347.8,147.95 L348.8,147.65 L349.8,147.33 L350.8,146.99 L351.8,146.63 L352.8,146.23 L353.8,145.82 L354.8,145.38 L355.8,144.91 L356.8,144.41 L357.8,143.89 L358.8,143.34 L359.8,142.76 L360.8,142.15 L361.8,141.52 L362.8,140.86 L363.8,140.17 L364.8,139.46 L365.8,138.72 L366.8,137.97 L367.8,137.19 L368.8,136.39 L369.8,135.58 L370.8,134.75 L371.8,133.90 L372.8,133.05 L373.8,132.19 L374.8,131.33 L375.8,130.46 L376.8,129.60 L377.8,128.74 L378.8,127.90 L379.8,127.06 L380.8,126.24 L381.8,125.44 L382.8,124.65 L383.8,123.90 L384.8,123.17 L385.8,122.46 L386.8,121.79 L387.8,121.14 L388.8,120.52 L389.8,119.94 L390.8,119.37 L391.8,118.84 L392.8,118.32 L393.8,117.81 L394.8,117.32 L395.8,116.82 L396.8,116.31 L397.8,115.79 L398.8,115.23 L399.8,114.62 L400.8,113.96 L401.8,113.23 L402.8,112.40 L403.8,111.47 L404.8,110.42 L405.8,109.24 L406.8,107.90 L407.8,106.41 L408.8,104.74 L409.8,102.89 L410.8,100.86 L411.8,98.64 L412.8,96.24 L413.8,93.67 L414.8,90.93 L415.8,88.05 L416.8,85.06 L417.8,81.97 L418.8,78.82 L419.8,75.65 L420.8,72.50 L421.8,69.41 L422.8,66.44 L423.8,63.63 L424.8,61.03 L425.8,58.69 L426.8,56.65 L427.8,54.96 L428.8,53.65 L429.8,52.76 L430.8,52.30 L431.8,52.31 L432.8,52.79 L433.8,53.74 L434.8,55.17 L435.8,57.04 L436.8,59.36 L437.8,62.08 L438.8,65.17 L439.8,68.59 L440.8,72.30 L441.8,76.25 L442.8,80.39 L443.8,84.67 L444.8,89.04 L445.8,93.44 L446.8,97.84 L447.8,102.18 L448.8,106.43 L449.8,110.56 L450.8,114.53 L451.8,118.31 L452.8,121.89 L453.8,125.25 L454.8,128.38 L455.8,131.28 L456.8,133.94 L457.8,136.36 L458.8,138.56 L459.8,140.54 L460.8,142.31 L461.8,143.88 L462.8,145.27 L463.8,146.48 L464.8,147.55 L465.8,148.47 L466.8,149.27 L467.8,149.95 L468.8,150.54 L469.8,151.03 L470.8,151.46 L471.8,151.81 L472.8,152.12 L473.8,152.37 L474.8,152.58 L475.8,152.76 L476.8,152.91 L477.8,153.04 L478.8,153.15 L479.8,153.24 L480.8,153.32 L481.8,153.39 L482.8,153.45 L483.8,153.50 L484.8,153.59 L485.8,153.68 L486.8,153.77 L487.8,153.85 L488.8,153.93 L489.8,154.01 L490.8,154.08 L491.8,154.16 L492.8,154.23 L493.8,154.31 L494.8,154.38 L495.8,154.45 L496.8,154.52 L497.8,154.59 L498.8,154.66 L499.8,154.73 L500.8,154.80 L501.8,154.87 L502.8,154.93 L503.8,155.00 L504.8,155.07 L505.8,155.14 L506.8,155.20 L507.8,155.27 L508.8,155.33 L509.8,155.40 L510.8,155.47 L511.8,155.53 L512.8,155.60 L513.8,155.66 L514.8,155.72 L515.8,155.79 L516.8,155.85 L517.8,155.92 L518.8,155.98 L519.8,156.04 L520.8,156.10 L521.8,156.17 L522.8,156.23 L523.8,156.29 L524.8,156.35 L525.8,156.42 L526.8,156.48 L527.8,156.54 L528.8,156.60 L529.8,156.66 L530.8,156.72 L531.8,156.79 L532.8,156.85 L533.8,156.91 L534.8,156.97 L535.8,157.03 L536.8,157.09 L537.8,157.15 L538.8,157.21 L539.8,157.27" fill="none" stroke="#ff0000" stroke-width="1.3" stroke-linejoin="round"/>
<path d="M313.8,151.93 L314.8,151.92 L315.8,151.91 L316.8,151.90 L317.8,151.89 L318.8,151.88 L319.8,151.87 L320.8,151.85 L321.8,151.84 L322.8,151.82 L323.8,151.79 L324.8,151.77 L325.8,151.74 L326.8,151.71 L327.8,151.68 L328.8,151.64 L329.8,151.60 L330.8,151.55 L331.8,151.50 L332.8,151.44 L333.8,151.38 L334.8,151.31 L335.8,151.23 L336.8,151.15 L337.8,151.05 L338.8,150.95 L339.8,150.84 L340.8,150.71 L341.8,150.58 L342.8,150.43 L343.8,150.27 L344.8,150.10 L345.8,149.91 L346.8,149.70 L347.8,149.48 L348.8,149.25 L349.8,148.99 L350.8,148.72 L351.8,148.42 L352.8,148.11 L353.8,147.77 L354.8,147.42 L355.8,147.04 L356.8,146.64 L357.8,146.22 L358.8,145.77 L359.8,145.30 L360.8,144.81 L361.8,144.30 L362.8,143.77 L363.8,143.21 L364.8,142.63 L365.8,142.04 L366.8,141.42 L367.8,140.79 L368.8,140.15 L369.8,139.49 L370.8,138.81 L371.8,138.13 L372.8,137.44 L373.8,136.74 L374.8,136.04 L375.8,135.34 L376.8,134.64 L377.8,133.94 L378.8,133.25 L379.8,132.57 L380.8,131.91 L381.8,131.26 L382.8,130.62 L383.8,130.01 L384.8,129.42 L385.8,128.85 L386.8,128.30 L387.8,127.78 L388.8,127.28 L389.8,126.80 L390.8,126.35 L391.8,125.91 L392.8,125.50 L393.8,125.09 L394.8,124.69 L395.8,124.29 L396.8,123.88 L397.8,123.45 L398.8,123.00 L399.8,122.52 L400.8,121.98 L401.8,121.38 L402.8,120.71 L403.8,119.96 L404.8,119.11 L405.8,118.14 L406.8,117.06 L407.8,115.84 L408.8,114.48 L409.8,112.97 L410.8,111.31 L411.8,109.50 L412.8,107.54 L413.8,105.44 L414.8,103.21 L415.8,100.86 L416.8,98.41 L417.8,95.88 L418.8,93.31 L419.8,90.72 L420.8,88.15 L421.8,85.63 L422.8,83.20 L423.8,80.91 L424.8,78.78 L425.8,76.87 L426.8,75.21 L427.8,73.83 L428.8,72.76 L429.8,72.03 L430.8,71.67 L431.8,71.68 L432.8,72.08 L433.8,72.87 L434.8,74.04 L435.8,75.58 L436.8,77.48 L437.8,79.72 L438.8,82.26 L439.8,85.07 L440.8,88.11 L441.8,91.35 L442.8,94.75 L443.8,98.26 L444.8,101.84 L445.8,105.46 L446.8,109.07 L447.8,112.63 L448.8,116.12 L449.8,119.50 L450.8,122.76 L451.8,125.87 L452.8,128.80 L453.8,131.56 L454.8,134.13 L455.8,136.51 L456.8,138.70 L457.8,140.69 L458.8,142.50 L459.8,144.12 L460.8,145.58 L461.8,146.87 L462.8,148.01 L463.8,149.02 L464.8,149.89 L465.8,150.66 L466.8,151.32 L467.8,151.88 L468.8,152.37 L469.8,152.78 L470.8,153.13 L471.8,153.43 L472.8,153.69 L473.8,153.90 L474.8,154.08 L475.8,154.24 L476.8,154.37 L477.8,154.48 L478.8,154.57 L479.8,154.65 L480.8,154.72 L481.8,154.79 L482.8,154.84 L483.8,154.89 L484.8,154.96 L485.8,155.03 L486.8,155.10 L487.8,155.16 L488.8,155.22 L489.8,155.28 L490.8,155.34 L491.8,155.40 L492.8,155.46 L493.8,155.51 L494.8,155.57 L495.8,155.62 L496.8,155.68 L497.8,155.73 L498.8,155.79 L499.8,155.84 L500.8,155.89 L501.8,155.94 L502.8,156.00 L503.8,156.05 L504.8,156.10 L505.8,156.15 L506.8,156.20 L507.8,156.25 L508.8,156.30 L509.8,156.35 L510.8,156.40 L511.8,156.45 L512.8,156.50 L513.8,156.55 L514.8,156.60 L515.8,156.65 L516.8,156.70 L517.8,156.75 L518.8,156.79 L519.8,156.84 L520.8,156.89 L521.8,156.94 L522.8,156.99 L523.8,157.03 L524.8,157.08 L525.8,157.13 L526.8,157.17 L527.8,157.22 L528.8,157.27 L529.8,157.31 L530.8,157.36 L531.8,157.41 L532.8,157.45 L533.8,157.50 L534.8,157.55 L535.8,157.59 L536.8,157.64 L537.8,157.69 L538.8,157.73 L539.8,157.78" fill="none" stroke="#0000ff" stroke-width="1.3" stroke-linejoin="round"/>
<path d="M313.8,153.48 L314.8,153.47 L315.8,153.47 L316.8,153.47 L317.8,153.46 L318.8,153.45 L319.8,153.44 L320.8,153.44 L321.8,153.42 L322.8,153.41 L323.8,153.40 L324.8,153.38 L325.8,153.36 L326.8,153.34 L327.8,153.32 L328.8,153.29 L329.8,153.26 L330.8,153.23 L331.8,153.20 L332.8,153.16 L333.8,153.11 L334.8,153.06 L335.8,153.00 L336.8,152.94 L337.8,152.88 L338.8,152.80 L339.8,152.72 L340.8,152.63 L341.8,152.53 L342.8,152.43 L343.8,152.31 L344.8,152.18 L345.8,152.05 L346.8,151.90 L347.8,151.74 L348.8,151.56 L349.8,151.38 L350.8,151.18 L351.8,150.96 L352.8,150.73 L353.8,150.49 L354.8,150.23 L355.8,149.95 L356.8,149.65 L357.8,149.34 L358.8,149.02 L359.8,148.67 L360.8,148.31 L361.8,147.94 L362.8,147.54 L363.8,147.14 L364.8,146.71 L365.8,146.27 L366.8,145.82 L367.8,145.36 L368.8,144.88 L369.8,144.40 L370.8,143.90 L371.8,143.40 L372.8,142.89 L373.8,142.37 L374.8,141.86 L375.8,141.34 L376.8,140.83 L377.8,140.31 L378.8,139.81 L379.8,139.31 L380.8,138.82 L381.8,138.34 L382.8,137.87 L383.8,137.42 L384.8,136.99 L385.8,136.57 L386.8,136.17 L387.8,135.78 L388.8,135.41 L389.8,135.07 L390.8,134.73 L391.8,134.41 L392.8,134.11 L393.8,133.81 L394.8,133.51 L395.8,133.22 L396.8,132.92 L397.8,132.61 L398.8,132.28 L399.8,131.92 L400.8,131.52 L401.8,131.09 L402.8,130.59 L403.8,130.04 L404.8,129.41 L405.8,128.70 L406.8,127.90 L407.8,127.00 L408.8,126.00 L409.8,124.89 L410.8,123.66 L411.8,122.33 L412.8,120.88 L413.8,119.33 L414.8,117.68 L415.8,115.95 L416.8,114.14 L417.8,112.28 L418.8,110.38 L419.8,108.47 L420.8,106.57 L421.8,104.71 L422.8,102.92 L423.8,101.23 L424.8,99.66 L425.8,98.25 L426.8,97.02 L427.8,96.01 L428.8,95.22 L429.8,94.69 L430.8,94.42 L431.8,94.43 L432.8,94.73 L433.8,95.31 L434.8,96.18 L435.8,97.32 L436.8,98.73 L437.8,100.38 L438.8,102.26 L439.8,104.33 L440.8,106.58 L441.8,108.98 L442.8,111.49 L443.8,114.09 L444.8,116.74 L445.8,119.41 L446.8,122.07 L447.8,124.71 L448.8,127.29 L449.8,129.79 L450.8,132.20 L451.8,134.49 L452.8,136.67 L453.8,138.71 L454.8,140.61 L455.8,142.37 L456.8,143.98 L457.8,145.46 L458.8,146.79 L459.8,148.00 L460.8,149.07 L461.8,150.03 L462.8,150.88 L463.8,151.62 L464.8,152.27 L465.8,152.83 L466.8,153.32 L467.8,153.74 L468.8,154.10 L469.8,154.41 L470.8,154.67 L471.8,154.90 L472.8,155.09 L473.8,155.25 L474.8,155.38 L475.8,155.50 L476.8,155.60 L477.8,155.68 L478.8,155.75 L479.8,155.81 L480.8,155.87 L481.8,155.92 L482.8,155.96 L483.8,156.00 L484.8,156.04 L485.8,156.08 L486.8,156.11 L487.8,156.15 L488.8,156.18 L489.8,156.21 L490.8,156.24 L491.8,156.27 L492.8,156.30 L493.8,156.33 L494.8,156.35 L495.8,156.38 L496.8,156.41 L497.8,156.43 L498.8,156.46 L499.8,156.49 L500.8,156.51 L501.8,156.54 L502.8,156.56 L503.8,156.59 L504.8,156.61 L505.8,156.64 L506.8,156.66 L507.8,156.68 L508.8,156.71 L509.8,156.73 L510.8,156.76 L511.8,156.78 L512.8,156.80 L513.8,156.82 L514.8,156.85 L515.8,156.87 L516.8,156.89 L517.8,156.92 L518.8,156.94 L519.8,156.96 L520.8,156.98 L521.8,157.00 L522.8,157.03 L523.8,157.05 L524.8,157.07 L525.8,157.09 L526.8,157.11 L527.8,157.13 L528.8,157.15 L529.8,157.18 L530.8,157.20 L531.8,157.22 L532.8,157.24 L533.8,157.26 L534.8,157.28 L535.8,157.30 L536.8,157.32 L537.8,157.34 L538.8,157.36 L539.8,157.38" fill="none" stroke="#ff00ff" stroke-width="1.3" stroke-linejoin="round"/>
<path d="M313.8,152.49 L314.8,152.49 L315.8,152.49 L316.8,152.49 L317.8,152.50 L318.8,152.50 L319.8,152.50 L320.8,152.50 L321.8,152.49 L322.8,152.49 L323.8,152.49 L324.8,152.48 L325.8,152.47 L326.8,152.46 L327.8,152.45 L328.8,152.44 L329.8,152.42 L330.8,152.40 L331.8,152.38 L332.8,152.36 L333.8,152.33 L334.8,152.30 L335.8,152.26 L336.8,152.23 L337.8,152.18 L338.8,152.13 L339.8,152.08 L340.8,152.02 L341.8,151.95 L342.8,151.88 L343.8,151.80 L344.8,151.71 L345.8,151.61 L346.8,151.51 L347.8,151.39 L348.8,151.27 L349.8,151.14 L350.8,150.99 L351.8,150.84 L352.8,150.67 L353.8,150.50 L354.8,150.31 L355.8,150.11 L356.8,149.89 L357.8,149.67 L358.8,149.43 L359.8,149.18 L360.8,148.92 L361.8,148.65 L362.8,148.36 L363.8,148.06 L364.8,147.75 L365.8,147.43 L366.8,147.10 L367.8,146.76 L368.8,146.41 L369.8,146.06 L370.8,145.69 L371.8,145.32 L372.8,144.95 L373.8,144.57 L374.8,144.20 L375.8,143.82 L376.8,143.44 L377.8,143.07 L378.8,142.69 L379.8,142.33 L380.8,141.97 L381.8,141.62 L382.8,141.28 L383.8,140.95 L384.8,140.63 L385.8,140.32 L386.8,140.03 L387.8,139.75 L388.8,139.48 L389.8,139.23 L390.8,138.99 L391.8,138.75 L392.8,138.53 L393.8,138.32 L394.8,138.10 L395.8,137.89 L396.8,137.67 L397.8,137.45 L398.8,137.21 L399.8,136.94 L400.8,136.66 L401.8,136.34 L402.8,135.98 L403.8,135.57 L404.8,135.11 L405.8,134.58 L406.8,133.99 L407.8,133.33 L408.8,132.59 L409.8,131.77 L410.8,130.86 L411.8,129.87 L412.8,128.80 L413.8,127.66 L414.8,126.43 L415.8,125.15 L416.8,123.81 L417.8,122.43 L418.8,121.02 L419.8,119.60 L420.8,118.20 L421.8,116.82 L422.8,115.49 L423.8,114.23 L424.8,113.07 L425.8,112.03 L426.8,111.12 L427.8,110.37 L428.8,109.79 L429.8,109.40 L430.8,109.21 L431.8,109.22 L432.8,109.45 L433.8,109.89 L434.8,110.54 L435.8,111.40 L436.8,112.45 L437.8,113.69 L438.8,115.09 L439.8,116.64 L440.8,118.32 L441.8,120.12 L442.8,121.99 L443.8,123.93 L444.8,125.91 L445.8,127.90 L446.8,129.89 L447.8,131.86 L448.8,133.79 L449.8,135.66 L450.8,137.46 L451.8,139.17 L452.8,140.80 L453.8,142.32 L454.8,143.74 L455.8,145.06 L456.8,146.27 L457.8,147.37 L458.8,148.37 L459.8,149.27 L460.8,150.08 L461.8,150.80 L462.8,151.44 L463.8,152.00 L464.8,152.49 L465.8,152.91 L466.8,153.28 L467.8,153.60 L468.8,153.88 L469.8,154.11 L470.8,154.31 L471.8,154.48 L472.8,154.63 L473.8,154.76 L474.8,154.86 L475.8,154.95 L476.8,155.03 L477.8,155.10 L478.8,155.16 L479.8,155.21 L480.8,155.26 L481.8,155.30 L482.8,155.34 L483.8,155.37 L484.8,155.43 L485.8,155.48 L486.8,155.53 L487.8,155.58 L488.8,155.63 L489.8,155.68 L490.8,155.73 L491.8,155.77 L492.8,155.82 L493.8,155.87 L494.8,155.91 L495.8,155.96 L496.8,156.00 L497.8,156.04 L498.8,156.09 L499.8,156.13 L500.8,156.18 L501.8,156.22 L502.8,156.26 L503.8,156.31 L504.8,156.35 L505.8,156.39 L506.8,156.43 L507.8,156.48 L508.8,156.52 L509.8,156.56 L510.8,156.60 L511.8,156.65 L512.8,156.69 L513.8,156.73 L514.8,156.77 L515.8,156.81 L516.8,156.85 L517.8,156.90 L518.8,156.94 L519.8,156.98 L520.8,157.02 L521.8,157.06 L522.8,157.10 L523.8,157.14 L524.8,157.18 L525.8,157.22 L526.8,157.26 L527.8,157.30 L528.8,157.34 L529.8,157.38 L530.8,157.43 L531.8,157.47 L532.8,157.51 L533.8,157.55 L534.8,157.59 L535.8,157.63 L536.8,157.67 L537.8,157.71 L538.8,157.75 L539.8,157.79" fill="none" stroke="#000080" stroke-width="1.3" stroke-linejoin="round"/>
<path d="M313.8,152.60 L314.8,152.61 L315.8,152.62 L316.8,152.63 L317.8,152.64 L318.8,152.64 L319.8,152.65 L320.8,152.66 L321.8,152.66 L322.8,152.67 L323.8,152.67 L324.8,152.68 L325.8,152.68 L326.8,152.68 L327.8,152.68 L328.8,152.68 L329.8,152.68 L330.8,152.67 L331.8,152.66 L332.8,152.66 L333.8,152.65 L334.8,152.63 L335.8,152.62 L336.8,152.60 L337.8,152.58 L338.8,152.56 L339.8,152.53 L340.8,152.50 L341.8,152.46 L342.8,152.42 L343.8,152.38 L344.8,152.33 L345.8,152.28 L346.8,152.22 L347.8,152.15 L348.8,152.08 L349.8,152.00 L350.8,151.92 L351.8,151.83 L352.8,151.73 L353.8,151.63 L354.8,151.51 L355.8,151.39 L356.8,151.27 L357.8,151.13 L358.8,150.99 L359.8,150.84 L360.8,150.68 L361.8,150.51 L362.8,150.34 L363.8,150.15 L364.8,149.96 L365.8,149.77 L366.8,149.57 L367.8,149.36 L368.8,149.14 L369.8,148.92 L370.8,148.70 L371.8,148.48 L372.8,148.25 L373.8,148.01 L374.8,147.78 L375.8,147.55 L376.8,147.32 L377.8,147.09 L378.8,146.86 L379.8,146.63 L380.8,146.41 L381.8,146.20 L382.8,145.99 L383.8,145.78 L384.8,145.59 L385.8,145.40 L386.8,145.22 L387.8,145.05 L388.8,144.89 L389.8,144.74 L390.8,144.59 L391.8,144.45 L392.8,144.32 L393.8,144.19 L394.8,144.06 L395.8,143.93 L396.8,143.80 L397.8,143.66 L398.8,143.52 L399.8,143.36 L400.8,143.19 L401.8,142.99 L402.8,142.77 L403.8,142.52 L404.8,142.23 L405.8,141.91 L406.8,141.54 L407.8,141.13 L408.8,140.66 L409.8,140.15 L410.8,139.58 L411.8,138.96 L412.8,138.29 L413.8,137.57 L414.8,136.80 L415.8,135.99 L416.8,135.15 L417.8,134.28 L418.8,133.40 L419.8,132.50 L420.8,131.62 L421.8,130.75 L422.8,129.92 L423.8,129.13 L424.8,128.40 L425.8,127.74 L426.8,127.17 L427.8,126.70 L428.8,126.34 L429.8,126.10 L430.8,125.99 L431.8,126.00 L432.8,126.15 L433.8,126.44 L434.8,126.86 L435.8,127.41 L436.8,128.09 L437.8,128.88 L438.8,129.78 L439.8,130.77 L440.8,131.84 L441.8,132.99 L442.8,134.18 L443.8,135.42 L444.8,136.68 L445.8,137.96 L446.8,139.23 L447.8,140.48 L448.8,141.71 L449.8,142.90 L450.8,144.05 L451.8,145.15 L452.8,146.19 L453.8,147.16 L454.8,148.07 L455.8,148.91 L456.8,149.69 L457.8,150.39 L458.8,151.03 L459.8,151.61 L460.8,152.13 L461.8,152.60 L462.8,153.01 L463.8,153.37 L464.8,153.69 L465.8,153.97 L466.8,154.21 L467.8,154.42 L468.8,154.60 L469.8,154.75 L470.8,154.89 L471.8,155.01 L472.8,155.11 L473.8,155.19 L474.8,155.27 L475.8,155.33 L476.8,155.39 L477.8,155.44 L478.8,155.49 L479.8,155.53 L480.8,155.56 L481.8,155.60 L482.8,155.63 L483.8,155.66 L484.8,155.70 L485.8,155.74 L486.8,155.78 L487.8,155.82 L488.8,155.86 L489.8,155.89 L490.8,155.93 L491.8,155.97 L492.8,156.00 L493.8,156.04 L494.8,156.08 L495.8,156.11 L496.8,156.15 L497.8,156.18 L498.8,156.22 L499.8,156.25 L500.8,156.29 L501.8,156.32 L502.8,156.36 L503.8,156.39 L504.8,156.43 L505.8,156.46 L506.8,156.50 L507.8,156.53 L508.8,156.56 L509.8,156.60 L510.8,156.63 L511.8,156.67 L512.8,156.70 L513.8,156.73 L514.8,156.77 L515.8,156.80 L516.8,156.83 L517.8,156.87 L518.8,156.90 L519.8,156.93 L520.8,156.97 L521.8,157.00 L522.8,157.03 L523.8,157.07 L524.8,157.10 L525.8,157.13 L526.8,157.17 L527.8,157.20 L528.8,157.23 L529.8,157.26 L530.8,157.30 L531.8,157.33 L532.8,157.36 L533.8,157.39 L534.8,157.43 L535.8,157.46 L536.8,157.49 L537.8,157.53 L538.8,157.56 L539.8,157.59" fill="none" stroke="#008000" stroke-width="1.3" stroke-linejoin="round"/>
<path d="M313.8,152.22 L314.8,152.23 L315.8,152.25 L316.8,152.26 L317.8,152.28 L318.8,152.29 L319.8,152.31 L320.8,152.32 L321.8,152.34 L322.8,152.35 L323.8,152.36 L324.8,152.38 L325.8,152.39 L326.8,152.40 L327.8,152.41 L328.8,152.42 L329.8,152.43 L330.8,152.44 L331.8,152.45 L332.8,152.46 L333.8,152.47 L334.8,152.47 L335.8,152.48 L336.8,152.48 L337.8,152.49 L338.8,152.49 L339.8,152.49 L340.8,152.49 L341.8,152.48 L342.8,152.48 L343.8,152.47 L344.8,152.46 L345.8,152.45 L346.8,152.44 L347.8,152.42 L348.8,152.41 L349.8,152.39 L350.8,152.36 L351.8,152.34 L352.8,152.31 L353.8,152.28 L354.8,152.24 L355.8,152.20 L356.8,152.16 L357.8,152.12 L358.8,152.07 L359.8,152.02 L360.8,151.96 L361.8,151.91 L362.8,151.85 L363.8,151.78 L364.8,151.72 L365.8,151.65 L366.8,151.57 L367.8,151.50 L368.8,151.42 L369.8,151.34 L370.8,151.26 L371.8,151.18 L372.8,151.10 L373.8,151.01 L374.8,150.93 L375.8,150.84 L376.8,150.76 L377.8,150.68 L378.8,150.59 L379.8,150.51 L380.8,150.43 L381.8,150.35 L382.8,150.28 L383.8,150.21 L384.8,150.14 L385.8,150.07 L386.8,150.01 L387.8,149.95 L388.8,149.90 L389.8,149.84 L390.8,149.79 L391.8,149.75 L392.8,149.70 L393.8,149.66 L394.8,149.62 L395.8,149.58 L396.8,149.54 L397.8,149.49 L398.8,149.44 L399.8,149.39 L400.8,149.33 L401.8,149.26 L402.8,149.18 L403.8,149.09 L404.8,148.98 L405.8,148.86 L406.8,148.72 L407.8,148.56 L408.8,148.38 L409.8,148.18 L410.8,147.95 L411.8,147.71 L412.8,147.44 L413.8,147.16 L414.8,146.85 L415.8,146.53 L416.8,146.19 L417.8,145.84 L418.8,145.49 L419.8,145.13 L420.8,144.78 L421.8,144.43 L422.8,144.10 L423.8,143.78 L424.8,143.49 L425.8,143.23 L426.8,143.01 L427.8,142.83 L428.8,142.69 L429.8,142.60 L430.8,142.57 L431.8,142.58 L432.8,142.66 L433.8,142.79 L434.8,142.97 L435.8,143.21 L436.8,143.50 L437.8,143.84 L438.8,144.22 L439.8,144.65 L440.8,145.10 L441.8,145.59 L442.8,146.09 L443.8,146.62 L444.8,147.15 L445.8,147.69 L446.8,148.22 L447.8,148.75 L448.8,149.27 L449.8,149.78 L450.8,150.26 L451.8,150.73 L452.8,151.17 L453.8,151.58 L454.8,151.97 L455.8,152.33 L456.8,152.66 L457.8,152.97 L458.8,153.24 L459.8,153.49 L460.8,153.72 L461.8,153.92 L462.8,154.10 L463.8,154.26 L464.8,154.41 L465.8,154.53 L466.8,154.65 L467.8,154.74 L468.8,154.83 L469.8,154.91 L470.8,154.97 L471.8,155.03 L472.8,155.09 L473.8,155.13 L474.8,155.18 L475.8,155.21 L476.8,155.25 L477.8,155.28 L478.8,155.31 L479.8,155.34 L480.8,155.37 L481.8,155.39 L482.8,155.42 L483.8,155.44 L484.8,155.45 L485.8,155.46 L486.8,155.47 L487.8,155.48 L488.8,155.49 L489.8,155.50 L490.8,155.51 L491.8,155.52 L492.8,155.53 L493.8,155.54 L494.8,155.55 L495.8,155.56 L496.8,155.56 L497.8,155.57 L498.8,155.58 L499.8,155.59 L500.8,155.60 L501.8,155.61 L502.8,155.61 L503.8,155.62 L504.8,155.63 L505.8,155.64 L506.8,155.65 L507.8,155.65 L508.8,155.66 L509.8,155.67 L510.8,155.68 L511.8,155.69 L512.8,155.69 L513.8,155.70 L514.8,155.71 L515.8,155.72 L516.8,155.72 L517.8,155.73 L518.8,155.74 L519.8,155.75 L520.8,155.76 L521.8,155.76 L522.8,155.77 L523.8,155.78 L524.8,155.79 L525.8,155.79 L526.8,155.80 L527.8,155.81 L528.8,155.82 L529.8,155.82 L530.8,155.83 L531.8,155.84 L532.8,155.85 L533.8,155.85 L534.8,155.86 L535.8,155.87 L536.8,155.87 L537.8,155.88 L538.8,155.89 L539.8,155.90" fill="none" stroke="#ff8000" stroke-width="1.3" stroke-linejoin="round"/>
<rect x="313.8" y="10.6" width="226.09999999999997" height="148.0" fill="none" stroke="#000" stroke-width="1.3"/>
<line x1="313.8" y1="158.6" x2="313.8" y2="161.4" stroke="#000" stroke-width="1.2"/>
<text x="313.8" y="171.6" font-size="10.2" text-anchor="middle" font-family="Liberation Serif" font-weight="bold" stroke="#000" stroke-width="0.25" >450</text>
<line x1="370.325" y1="158.6" x2="370.325" y2="161.4" stroke="#000" stroke-width="1.2"/>
<text x="370.325" y="171.6" font-size="10.2" text-anchor="middle" font-family="Liberation Serif" font-weight="bold" stroke="#000" stroke-width="0.25" >500</text>
<line x1="426.85" y1="158.6" x2="426.85" y2="161.4" stroke="#000" stroke-width="1.2"/>
<text x="426.85" y="171.6" font-size="10.2" text-anchor="middle" font-family="Liberation Serif" font-weight="bold" stroke="#000" stroke-width="0.25" >550</text>
<line x1="483.375" y1="158.6" x2="483.375" y2="161.4" stroke="#000" stroke-width="1.2"/>
<text x="483.375" y="171.6" font-size="10.2" text-anchor="middle" font-family="Liberation Serif" font-weight="bold" stroke="#000" stroke-width="0.25" >600</text>
<line x1="539.9" y1="158.6" x2="539.9" y2="161.4" stroke="#000" stroke-width="1.2"/>
<text x="539.9" y="171.6" font-size="10.2" text-anchor="middle" font-family="Liberation Serif" font-weight="bold" stroke="#000" stroke-width="0.25" >650</text>
<text x="426.1" y="185.6" font-size="12.8" text-anchor="middle" font-family="Liberation Serif" font-weight="bold" stroke="#000" stroke-width="0.25" >Wavelength (nm)</text>
<text x="318.8" y="24.8" font-size="12.5" text-anchor="start" font-family="Liberation Serif" font-weight="bold" stroke="#000" stroke-width="0.25" >Poling after mixing</text>
<text x="320.5" y="72.5" font-size="16.2" text-anchor="start" font-family="Liberation Serif" font-weight="bold" stroke="#000" stroke-width="0.25" >(b)</text>
<line x1="482.7" y1="20.0" x2="482.7" y2="117.80000000000001" stroke="#000" stroke-width="0.9"/>
<path d="M481.09999999999997,116.60000000000001 L482.7,120.60000000000001 L484.3,116.60000000000001 Z" fill="#000"/>
<text x="493.8" y="26.5" font-size="12.3" text-anchor="start" font-family="Liberation Serif" font-weight="bold" stroke="#000" stroke-width="0.25" >0 min</text>
<text x="493.8" y="42.55" font-size="12.3" text-anchor="start" font-family="Liberation Serif" font-weight="bold" stroke="#000" stroke-width="0.25" >30 min</text>
<text x="493.8" y="58.6" font-size="12.3" text-anchor="start" font-family="Liberation Serif" font-weight="bold" stroke="#000" stroke-width="0.25" >60 min</text>
<text x="493.8" y="74.65" font-size="12.3" text-anchor="start" font-family="Liberation Serif" font-weight="bold" stroke="#000" stroke-width="0.25" >90 min</text>
<text x="493.8" y="90.7" font-size="12.3" text-anchor="start" font-family="Liberation Serif" font-weight="bold" stroke="#000" stroke-width="0.25" >120 min</text>
<text x="493.8" y="106.75" font-size="12.3" text-anchor="start" font-family="Liberation Serif" font-weight="bold" stroke="#000" stroke-width="0.25" >180 min</text>
<text x="493.8" y="122.80000000000001" font-size="12.3" text-anchor="start" font-family="Liberation Serif" font-weight="bold" stroke="#000" stroke-width="0.25" >240 min</text>
<text x="299.6" y="79.6" font-size="12.65" text-anchor="middle" font-family="Liberation Serif" font-weight="bold" stroke="#000" stroke-width="0.25" transform="rotate(-90 299.6 79.6)">Absorbance (a. u.)</text>
<path d="M44.50,195.50 L71.70,196.36 L98.90,196.94 L126.10,197.66 L153.30,199.09 L207.71,199.38 L262.11,201.10" fill="none" stroke="#000000" stroke-width="1.3"/>
<path d="M44.50,195.50 L71.70,197.66 L98.90,200.96 L126.10,202.54 L153.30,203.26 L207.71,203.83 L262.11,205.27" fill="none" stroke="#ff2020" stroke-width="1.3"/>
<path d="M44.50,195.50 L71.70,200.96 L98.90,205.85 L126.10,207.14 L153.30,209.87 L207.71,211.31 L262.11,214.18" fill="none" stroke="#1010ff" stroke-width="1.3"/>
<path d="M44.50,195.50 L71.70,218.78 L98.90,239.04 L126.10,257.58 L153.30,277.41 L207.71,297.24 L262.11,305.14" fill="none" stroke="#228b22" stroke-width="1.3"/>
<path d="M44.50,195.50 L71.70,227.55 L98.90,247.95 L126.10,273.24 L153.30,290.92 L207.71,307.59 L262.11,326.55" fill="none" stroke="#ff8418" stroke-width="1.3"/>
<path d="M71.70,213.28 L71.70,224.28 M69.50,213.28 L73.90,213.28 M69.50,224.28 L73.90,224.28" stroke="#228b22" stroke-width="0.9" fill="none"/>
<path d="M98.90,233.34 L98.90,244.74 M96.70,233.34 L101.10,233.34 M96.70,244.74 L101.10,244.74" stroke="#228b22" stroke-width="0.9" fill="none"/>
<path d="M126.10,253.58 L126.10,261.58 M123.90,253.58 L128.30,253.58 M123.90,261.58 L128.30,261.58" stroke="#228b22" stroke-width="0.9" fill="none"/>
<path d="M153.30,274.41 L153.30,280.41 M151.10,274.41 L155.50,274.41 M151.10,280.41 L155.50,280.41" stroke="#228b22" stroke-width="0.9" fill="none"/>
<path d="M207.71,294.74 L207.71,299.74 M205.51,294.74 L209.91,294.74 M205.51,299.74 L209.91,299.74" stroke="#228b22" stroke-width="0.9" fill="none"/>
<path d="M262.11,302.14 L262.11,308.14 M259.91,302.14 L264.31,302.14 M259.91,308.14 L264.31,308.14" stroke="#228b22" stroke-width="0.9" fill="none"/>
<path d="M71.70,222.05 L71.70,233.05 M69.50,222.05 L73.90,222.05 M69.50,233.05 L73.90,233.05" stroke="#ff8418" stroke-width="0.9" fill="none"/>
<path d="M98.90,242.95 L98.90,252.95 M96.70,242.95 L101.10,242.95 M96.70,252.95 L101.10,252.95" stroke="#ff8418" stroke-width="0.9" fill="none"/>
<path d="M126.10,271.74 L126.10,274.74 M123.90,271.74 L128.30,271.74 M123.90,274.74 L128.30,274.74" stroke="#ff8418" stroke-width="0.9" fill="none"/>
<circle cx="44.50" cy="195.50" r="2.76" fill="#fff" stroke="#000" stroke-width="0.8"/><path d="M41.74,195.80 A2.76,2.76 0 0 1 47.26,195.80 Z" fill="#000"/>
<circle cx="71.70" cy="196.36" r="2.76" fill="#fff" stroke="#000" stroke-width="0.8"/><path d="M68.94,196.66 A2.76,2.76 0 0 1 74.46,196.66 Z" fill="#000"/>
<circle cx="98.90" cy="196.94" r="2.76" fill="#fff" stroke="#000" stroke-width="0.8"/><path d="M96.14,197.24 A2.76,2.76 0 0 1 101.66,197.24 Z" fill="#000"/>
<circle cx="126.10" cy="197.66" r="2.76" fill="#fff" stroke="#000" stroke-width="0.8"/><path d="M123.34,197.96 A2.76,2.76 0 0 1 128.86,197.96 Z" fill="#000"/>
<circle cx="153.30" cy="199.09" r="2.76" fill="#fff" stroke="#000" stroke-width="0.8"/><path d="M150.54,199.39 A2.76,2.76 0 0 1 156.06,199.39 Z" fill="#000"/>
<circle cx="207.71" cy="199.38" r="2.76" fill="#fff" stroke="#000" stroke-width="0.8"/><path d="M204.95,199.68 A2.76,2.76 0 0 1 210.47,199.68 Z" fill="#000"/>
<circle cx="262.11" cy="201.10" r="2.76" fill="#fff" stroke="#000" stroke-width="0.8"/><path d="M259.35,201.40 A2.76,2.76 0 0 1 264.87,201.40 Z" fill="#000"/>
<path d="M44.50,192.00 L47.81,195.50 L44.50,199.00 L41.19,195.50 Z" fill="#fff" stroke="#ff2020" stroke-width="0.8"/>
<path d="M71.70,194.16 L75.01,197.66 L71.70,201.15 L68.39,197.66 Z" fill="#fff" stroke="#ff2020" stroke-width="0.8"/>
<path d="M98.90,197.46 L102.21,200.96 L98.90,204.46 L95.59,200.96 Z" fill="#fff" stroke="#ff2020" stroke-width="0.8"/>
<path d="M126.10,199.05 L129.41,202.54 L126.10,206.04 L122.79,202.54 Z" fill="#fff" stroke="#ff2020" stroke-width="0.8"/>
<path d="M153.30,199.76 L156.62,203.26 L153.30,206.76 L149.99,203.26 Z" fill="#fff" stroke="#ff2020" stroke-width="0.8"/>
<path d="M207.71,200.34 L211.02,203.83 L207.71,207.33 L204.39,203.83 Z" fill="#fff" stroke="#ff2020" stroke-width="0.8"/>
<path d="M262.11,201.78 L265.42,205.27 L262.11,208.77 L258.80,205.27 Z" fill="#fff" stroke="#ff2020" stroke-width="0.8"/>
<path d="M44.50,192.28 L45.31,194.38 L47.56,194.50 L45.81,195.93 L46.39,198.11 L44.50,196.88 L42.61,198.11 L43.19,195.93 L41.44,194.50 L43.69,194.38 Z" fill="#fff" stroke="#1010ff" stroke-width="0.8"/>
<path d="M71.70,197.74 L72.51,199.84 L74.76,199.97 L73.01,201.39 L73.59,203.57 L71.70,202.34 L69.81,203.57 L70.39,201.39 L68.64,199.97 L70.89,199.84 Z" fill="#fff" stroke="#1010ff" stroke-width="0.8"/>
<path d="M98.90,202.63 L99.71,204.73 L101.96,204.85 L100.21,206.27 L100.79,208.45 L98.90,207.23 L97.01,208.45 L97.59,206.27 L95.84,204.85 L98.09,204.73 Z" fill="#fff" stroke="#1010ff" stroke-width="0.8"/>
<path d="M126.10,203.92 L126.91,206.02 L129.17,206.14 L127.42,207.57 L128.00,209.74 L126.10,208.52 L124.21,209.74 L124.79,207.57 L123.04,206.14 L125.29,206.02 Z" fill="#fff" stroke="#1010ff" stroke-width="0.8"/>
<path d="M153.30,206.65 L154.12,208.75 L156.37,208.87 L154.62,210.30 L155.20,212.48 L153.30,211.25 L151.41,212.48 L151.99,210.30 L150.24,208.87 L152.49,208.75 Z" fill="#fff" stroke="#1010ff" stroke-width="0.8"/>
<path d="M207.71,208.09 L208.52,210.19 L210.77,210.31 L209.02,211.73 L209.60,213.91 L207.71,212.69 L205.81,213.91 L206.39,211.73 L204.64,210.31 L206.89,210.19 Z" fill="#fff" stroke="#1010ff" stroke-width="0.8"/>
<path d="M262.11,210.96 L262.92,213.06 L265.17,213.19 L263.42,214.61 L264.00,216.79 L262.11,215.56 L260.22,216.79 L260.80,214.61 L259.05,213.19 L261.30,213.06 Z" fill="#fff" stroke="#1010ff" stroke-width="0.8"/>
<circle cx="44.50" cy="195.50" r="2.86" fill="#fff" stroke="#228b22" stroke-width="0.9"/>
<circle cx="71.70" cy="218.78" r="2.86" fill="#fff" stroke="#228b22" stroke-width="0.9"/>
<circle cx="98.90" cy="239.04" r="2.86" fill="#fff" stroke="#228b22" stroke-width="0.9"/>
<circle cx="126.10" cy="257.58" r="2.86" fill="#fff" stroke="#228b22" stroke-width="0.9"/>
<circle cx="153.30" cy="277.41" r="2.86" fill="#fff" stroke="#228b22" stroke-width="0.9"/>
<circle cx="207.71" cy="297.24" r="2.86" fill="#fff" stroke="#228b22" stroke-width="0.9"/>
<circle cx="262.11" cy="305.14" r="2.86" fill="#fff" stroke="#228b22" stroke-width="0.9"/>
<circle cx="44.50" cy="195.50" r="3.06" fill="#ff8418"/><circle cx="43.70" cy="194.60" r="0.9" fill="#fff" opacity="0.7"/>
<circle cx="71.70" cy="227.55" r="3.06" fill="#ff8418"/><circle cx="70.90" cy="226.65" r="0.9" fill="#fff" opacity="0.7"/>
<circle cx="98.90" cy="247.95" r="3.06" fill="#ff8418"/><circle cx="98.10" cy="247.05" r="0.9" fill="#fff" opacity="0.7"/>
<circle cx="126.10" cy="273.24" r="3.06" fill="#ff8418"/><circle cx="125.30" cy="272.34" r="0.9" fill="#fff" opacity="0.7"/>
<circle cx="153.30" cy="290.92" r="3.06" fill="#ff8418"/><circle cx="152.50" cy="290.02" r="0.9" fill="#fff" opacity="0.7"/>
<circle cx="207.71" cy="307.59" r="3.06" fill="#ff8418"/><circle cx="206.91" cy="306.69" r="0.9" fill="#fff" opacity="0.7"/>
<circle cx="262.11" cy="326.55" r="3.06" fill="#ff8418"/><circle cx="261.31" cy="325.65" r="0.9" fill="#fff" opacity="0.7"/>
<rect x="40.55" y="191.3" width="226.25" height="147.89999999999998" fill="none" stroke="#000" stroke-width="1.3"/>
<line x1="44.50" y1="339.2" x2="44.50" y2="342.0" stroke="#000" stroke-width="1.2"/>
<text x="44.50" y="351.8" font-size="10.1" text-anchor="middle" font-family="Liberation Serif" font-weight="bold" stroke="#000" stroke-width="0.25" >0</text>
<line x1="71.70" y1="339.2" x2="71.70" y2="342.0" stroke="#000" stroke-width="1.2"/>
<text x="71.70" y="351.8" font-size="10.1" text-anchor="middle" font-family="Liberation Serif" font-weight="bold" stroke="#000" stroke-width="0.25" >30</text>
<line x1="98.90" y1="339.2" x2="98.90" y2="342.0" stroke="#000" stroke-width="1.2"/>
<text x="98.90" y="351.8" font-size="10.1" text-anchor="middle" font-family="Liberation Serif" font-weight="bold" stroke="#000" stroke-width="0.25" >60</text>
<line x1="126.10" y1="339.2" x2="126.10" y2="342.0" stroke="#000" stroke-width="1.2"/>
<text x="126.10" y="351.8" font-size="10.1" text-anchor="middle" font-family="Liberation Serif" font-weight="bold" stroke="#000" stroke-width="0.25" >90</text>
<line x1="153.30" y1="339.2" x2="153.30" y2="342.0" stroke="#000" stroke-width="1.2"/>
<text x="153.30" y="351.8" font-size="10.1" text-anchor="middle" font-family="Liberation Serif" font-weight="bold" stroke="#000" stroke-width="0.25" >120</text>
<line x1="180.50" y1="339.2" x2="180.50" y2="342.0" stroke="#000" stroke-width="1.2"/>
<text x="180.50" y="351.8" font-size="10.1" text-anchor="middle" font-family="Liberation Serif" font-weight="bold" stroke="#000" stroke-width="0.25" >150</text>
<line x1="207.71" y1="339.2" x2="207.71" y2="342.0" stroke="#000" stroke-width="1.2"/>
<text x="207.71" y="351.8" font-size="10.1" text-anchor="middle" font-family="Liberation Serif" font-weight="bold" stroke="#000" stroke-width="0.25" >180</text>
<line x1="234.91" y1="339.2" x2="234.91" y2="342.0" stroke="#000" stroke-width="1.2"/>
<text x="234.91" y="351.8" font-size="10.1" text-anchor="middle" font-family="Liberation Serif" font-weight="bold" stroke="#000" stroke-width="0.25" >210</text>
<line x1="262.11" y1="339.2" x2="262.11" y2="342.0" stroke="#000" stroke-width="1.2"/>
<text x="262.11" y="351.8" font-size="10.1" text-anchor="middle" font-family="Liberation Serif" font-weight="bold" stroke="#000" stroke-width="0.25" >240</text>
<line x1="37.75" y1="339.20" x2="40.55" y2="339.20" stroke="#000" stroke-width="1.2"/>
<text x="35.2" y="342.60" font-size="9.8" text-anchor="end" font-family="Liberation Serif" font-weight="bold" stroke="#000" stroke-width="0.25" >0.0</text>
<line x1="37.75" y1="310.46" x2="40.55" y2="310.46" stroke="#000" stroke-width="1.2"/>
<text x="35.2" y="313.86" font-size="9.8" text-anchor="end" font-family="Liberation Serif" font-weight="bold" stroke="#000" stroke-width="0.25" >0.2</text>
<line x1="37.75" y1="281.72" x2="40.55" y2="281.72" stroke="#000" stroke-width="1.2"/>
<text x="35.2" y="285.12" font-size="9.8" text-anchor="end" font-family="Liberation Serif" font-weight="bold" stroke="#000" stroke-width="0.25" >0.4</text>
<line x1="37.75" y1="252.98" x2="40.55" y2="252.98" stroke="#000" stroke-width="1.2"/>
<text x="35.2" y="256.38" font-size="9.8" text-anchor="end" font-family="Liberation Serif" font-weight="bold" stroke="#000" stroke-width="0.25" >0.6</text>
<line x1="37.75" y1="224.24" x2="40.55" y2="224.24" stroke="#000" stroke-width="1.2"/>
<text x="35.2" y="227.64" font-size="9.8" text-anchor="end" font-family="Liberation Serif" font-weight="bold" stroke="#000" stroke-width="0.25" >0.8</text>
<line x1="37.75" y1="195.50" x2="40.55" y2="195.50" stroke="#000" stroke-width="1.2"/>
<text x="35.2" y="198.90" font-size="9.8" text-anchor="end" font-family="Liberation Serif" font-weight="bold" stroke="#000" stroke-width="0.25" >1.0</text>
<text x="153.8" y="370.3" font-size="12.6" text-anchor="middle" font-family="Liberation Serif" font-weight="bold" stroke="#000" stroke-width="0.25" >Time (min)</text>
<text x="42.1" y="244.8" font-size="16.2" text-anchor="start" font-family="Liberation Serif" font-weight="bold" stroke="#000" stroke-width="0.25" >(c)</text>
<line x1="42.7" y1="276.20" x2="66" y2="276.20" stroke="#000000" stroke-width="1.4"/>
<circle cx="54.20" cy="276.20" r="2.76" fill="#fff" stroke="#000" stroke-width="0.8"/><path d="M51.44,276.50 A2.76,2.76 0 0 1 56.96,276.50 Z" fill="#000"/>
<text x="68.4" y="279.70" font-size="10" text-anchor="start" font-family="Liberation Serif" font-weight="bold" stroke="#000" stroke-width="0.25" >RB dye</text>
<line x1="42.7" y1="288.75" x2="66" y2="288.75" stroke="#ff2020" stroke-width="1.4"/>
<path d="M54.20,285.25 L57.51,288.75 L54.20,292.25 L50.89,288.75 Z" fill="#fff" stroke="#ff2020" stroke-width="0.8"/>
<text x="68.4" y="292.25" font-size="10" text-anchor="start" font-family="Liberation Serif" font-weight="bold" stroke="#000" stroke-width="0.25" >Pure paint</text>
<line x1="42.7" y1="301.30" x2="66" y2="301.30" stroke="#1010ff" stroke-width="1.4"/>
<path d="M54.20,298.08 L55.01,300.18 L57.26,300.30 L55.51,301.73 L56.09,303.91 L54.20,302.68 L52.31,303.91 L52.89,301.73 L51.14,300.30 L53.39,300.18 Z" fill="#fff" stroke="#1010ff" stroke-width="0.8"/>
<text x="68.4" y="304.80" font-size="10" text-anchor="start" font-family="Liberation Serif" font-weight="bold" stroke="#000" stroke-width="0.25" >Unpoled sample</text>
<line x1="42.7" y1="313.85" x2="66" y2="313.85" stroke="#228b22" stroke-width="1.4"/>
<circle cx="54.20" cy="313.85" r="2.86" fill="#fff" stroke="#228b22" stroke-width="0.9"/>
<text x="68.4" y="317.35" font-size="10" text-anchor="start" font-family="Liberation Serif" font-weight="bold" stroke="#000" stroke-width="0.25" >Poling before mixing</text>
<line x1="42.7" y1="326.40" x2="66" y2="326.40" stroke="#ff8418" stroke-width="1.4"/>
<circle cx="54.20" cy="326.40" r="3.06" fill="#ff8418"/><circle cx="53.40" cy="325.50" r="0.9" fill="#fff" opacity="0.7"/>
<text x="68.4" y="329.90" font-size="10" text-anchor="start" font-family="Liberation Serif" font-weight="bold" stroke="#000" stroke-width="0.25" >Poling after mixing</text>
<text transform="translate(16,278.2) rotate(-90)" font-size="12.2" font-family="Liberation Serif" font-weight="bold" stroke="#000" stroke-width="0.25">C/C<tspan font-size="7.5" dy="3.2">o</tspan></text>
<line x1="317.60" y1="199.30" x2="535.21" y2="201.00" stroke="#111" stroke-width="1.2"/>
<line x1="317.60" y1="199.90" x2="535.21" y2="203.40" stroke="#ff2020" stroke-width="1.2"/>
<line x1="317.60" y1="200.60" x2="535.21" y2="207.30" stroke="#1010ff" stroke-width="1.2"/>
<line x1="317.60" y1="199.50" x2="535.21" y2="272.20" stroke="#228b22" stroke-width="1.3"/>
<line x1="316.60" y1="196.70" x2="535.21" y2="314.60" stroke="#ff8418" stroke-width="1.3"/>
<path d="M317.60,195.57 L320.66,198.80 L317.60,202.03 L314.54,198.80 Z" fill="#fff" stroke="#ff2020" stroke-width="0.8"/>
<path d="M344.80,196.37 L347.86,199.60 L344.80,202.83 L341.74,199.60 Z" fill="#fff" stroke="#ff2020" stroke-width="0.8"/>
<path d="M372.00,196.97 L375.06,200.20 L372.00,203.43 L368.94,200.20 Z" fill="#fff" stroke="#ff2020" stroke-width="0.8"/>
<path d="M399.20,197.27 L402.26,200.50 L399.20,203.73 L396.14,200.50 Z" fill="#fff" stroke="#ff2020" stroke-width="0.8"/>
<path d="M426.40,197.57 L429.46,200.80 L426.40,204.03 L423.34,200.80 Z" fill="#fff" stroke="#ff2020" stroke-width="0.8"/>
<path d="M480.81,198.27 L483.87,201.50 L480.81,204.73 L477.75,201.50 Z" fill="#fff" stroke="#ff2020" stroke-width="0.8"/>
<path d="M535.21,199.27 L538.27,202.50 L535.21,205.73 L532.15,202.50 Z" fill="#fff" stroke="#ff2020" stroke-width="0.8"/>
<path d="M317.60,195.83 L318.35,197.77 L320.43,197.88 L318.81,199.19 L319.35,201.21 L317.60,200.08 L315.85,201.21 L316.39,199.19 L314.77,197.88 L316.85,197.77 Z" fill="#fff" stroke="#1010ff" stroke-width="0.8"/>
<path d="M344.80,199.03 L345.55,200.97 L347.63,201.08 L346.01,202.39 L346.55,204.41 L344.80,203.28 L343.05,204.41 L343.59,202.39 L341.97,201.08 L344.05,200.97 Z" fill="#fff" stroke="#1010ff" stroke-width="0.8"/>
<path d="M372.00,200.53 L372.75,202.47 L374.83,202.58 L373.21,203.89 L373.75,205.91 L372.00,204.78 L370.25,205.91 L370.79,203.89 L369.17,202.58 L371.25,202.47 Z" fill="#fff" stroke="#1010ff" stroke-width="0.8"/>
<path d="M399.20,201.43 L399.95,203.37 L402.03,203.48 L400.42,204.79 L400.95,206.81 L399.20,205.68 L397.45,206.81 L397.99,204.79 L396.37,203.48 L398.45,203.37 Z" fill="#fff" stroke="#1010ff" stroke-width="0.8"/>
<path d="M426.40,202.03 L427.15,203.97 L429.23,204.08 L427.62,205.39 L428.15,207.41 L426.40,206.28 L424.66,207.41 L425.19,205.39 L423.57,204.08 L425.65,203.97 Z" fill="#fff" stroke="#1010ff" stroke-width="0.8"/>
<path d="M480.81,202.33 L481.56,204.27 L483.64,204.38 L482.02,205.69 L482.55,207.71 L480.81,206.58 L479.06,207.71 L479.59,205.69 L477.98,204.38 L480.06,204.27 Z" fill="#fff" stroke="#1010ff" stroke-width="0.8"/>
<path d="M535.21,204.33 L535.96,206.27 L538.04,206.38 L536.42,207.69 L536.96,209.71 L535.21,208.58 L533.46,209.71 L534.00,207.69 L532.38,206.38 L534.46,206.27 Z" fill="#fff" stroke="#1010ff" stroke-width="0.8"/>
<circle cx="317.60" cy="198.80" r="2.55" fill="none" stroke="#000" stroke-width="0.8"/><path d="M315.05,199.10 A2.55,2.55 0 0 1 320.15,199.10 Z" fill="#000"/>
<circle cx="344.80" cy="199.00" r="2.55" fill="none" stroke="#000" stroke-width="0.8"/><path d="M342.25,199.30 A2.55,2.55 0 0 1 347.35,199.30 Z" fill="#000"/>
<circle cx="372.00" cy="199.20" r="2.55" fill="none" stroke="#000" stroke-width="0.8"/><path d="M369.45,199.50 A2.55,2.55 0 0 1 374.55,199.50 Z" fill="#000"/>
<circle cx="399.20" cy="199.50" r="2.55" fill="none" stroke="#000" stroke-width="0.8"/><path d="M396.65,199.80 A2.55,2.55 0 0 1 401.75,199.80 Z" fill="#000"/>
<circle cx="426.40" cy="199.80" r="2.55" fill="none" stroke="#000" stroke-width="0.8"/><path d="M423.85,200.10 A2.55,2.55 0 0 1 428.95,200.10 Z" fill="#000"/>
<circle cx="480.81" cy="199.90" r="2.55" fill="none" stroke="#000" stroke-width="0.8"/><path d="M478.26,200.20 A2.55,2.55 0 0 1 483.36,200.20 Z" fill="#000"/>
<circle cx="535.21" cy="200.70" r="2.55" fill="none" stroke="#000" stroke-width="0.8"/><path d="M532.66,201.00 A2.55,2.55 0 0 1 537.76,201.00 Z" fill="#000"/>
<path d="M317.60,195.49 L320.75,197.78 L319.55,201.48 L315.65,201.48 L314.45,197.78 Z" fill="#fff" stroke="#228b22" stroke-width="0.8"/>
<path d="M344.80,204.54 L347.95,206.83 L346.75,210.53 L342.85,210.53 L341.65,206.83 Z" fill="#fff" stroke="#228b22" stroke-width="0.8"/>
<path d="M372.00,213.97 L375.15,216.26 L373.95,219.96 L370.06,219.96 L368.85,216.26 Z" fill="#fff" stroke="#228b22" stroke-width="0.8"/>
<path d="M399.20,224.45 L402.35,226.74 L401.15,230.44 L397.26,230.44 L396.05,226.74 Z" fill="#fff" stroke="#228b22" stroke-width="0.8"/>
<path d="M426.40,238.70 L429.55,240.99 L428.35,244.69 L424.46,244.69 L423.25,240.99 Z" fill="#fff" stroke="#228b22" stroke-width="0.8"/>
<path d="M480.81,258.52 L483.96,260.80 L482.75,264.51 L478.86,264.51 L477.66,260.80 Z" fill="#fff" stroke="#228b22" stroke-width="0.8"/>
<path d="M535.21,269.20 L538.36,271.49 L537.15,275.19 L533.26,275.19 L532.06,271.49 Z" fill="#fff" stroke="#228b22" stroke-width="0.8"/>
<circle cx="317.60" cy="198.80" r="3.06" fill="#ff8418"/><circle cx="316.80" cy="197.90" r="0.9" fill="#fff" opacity="0.7"/>
<circle cx="344.80" cy="211.72" r="3.06" fill="#ff8418"/><circle cx="344.00" cy="210.82" r="0.9" fill="#fff" opacity="0.7"/>
<circle cx="372.00" cy="222.05" r="3.06" fill="#ff8418"/><circle cx="371.20" cy="221.15" r="0.9" fill="#fff" opacity="0.7"/>
<circle cx="399.20" cy="238.67" r="3.06" fill="#ff8418"/><circle cx="398.40" cy="237.77" r="0.9" fill="#fff" opacity="0.7"/>
<circle cx="426.40" cy="254.64" r="3.06" fill="#ff8418"/><circle cx="425.60" cy="253.74" r="0.9" fill="#fff" opacity="0.7"/>
<circle cx="480.81" cy="276.32" r="3.06" fill="#ff8418"/><circle cx="480.01" cy="275.42" r="0.9" fill="#fff" opacity="0.7"/>
<circle cx="535.21" cy="323.24" r="3.06" fill="#ff8418"/><circle cx="534.41" cy="322.34" r="0.9" fill="#fff" opacity="0.7"/>
<rect x="313.7" y="191.4" width="226.40000000000003" height="147.65" fill="none" stroke="#000" stroke-width="1.3"/>
<line x1="317.60" y1="339.05" x2="317.60" y2="341.85" stroke="#000" stroke-width="1.2"/>
<text x="317.60" y="351.8" font-size="10.1" text-anchor="middle" font-family="Liberation Serif" font-weight="bold" stroke="#000" stroke-width="0.25" >0</text>
<line x1="344.80" y1="339.05" x2="344.80" y2="341.85" stroke="#000" stroke-width="1.2"/>
<text x="344.80" y="351.8" font-size="10.1" text-anchor="middle" font-family="Liberation Serif" font-weight="bold" stroke="#000" stroke-width="0.25" >30</text>
<line x1="372.00" y1="339.05" x2="372.00" y2="341.85" stroke="#000" stroke-width="1.2"/>
<text x="372.00" y="351.8" font-size="10.1" text-anchor="middle" font-family="Liberation Serif" font-weight="bold" stroke="#000" stroke-width="0.25" >60</text>
<line x1="399.20" y1="339.05" x2="399.20" y2="341.85" stroke="#000" stroke-width="1.2"/>
<text x="399.20" y="351.8" font-size="10.1" text-anchor="middle" font-family="Liberation Serif" font-weight="bold" stroke="#000" stroke-width="0.25" >90</text>
<line x1="426.40" y1="339.05" x2="426.40" y2="341.85" stroke="#000" stroke-width="1.2"/>
<text x="426.40" y="351.8" font-size="10.1" text-anchor="middle" font-family="Liberation Serif" font-weight="bold" stroke="#000" stroke-width="0.25" >120</text>
<line x1="453.61" y1="339.05" x2="453.61" y2="341.85" stroke="#000" stroke-width="1.2"/>
<text x="453.61" y="351.8" font-size="10.1" text-anchor="middle" font-family="Liberation Serif" font-weight="bold" stroke="#000" stroke-width="0.25" >150</text>
<line x1="480.81" y1="339.05" x2="480.81" y2="341.85" stroke="#000" stroke-width="1.2"/>
<text x="480.81" y="351.8" font-size="10.1" text-anchor="middle" font-family="Liberation Serif" font-weight="bold" stroke="#000" stroke-width="0.25" >180</text>
<line x1="508.01" y1="339.05" x2="508.01" y2="341.85" stroke="#000" stroke-width="1.2"/>
<text x="508.01" y="351.8" font-size="10.1" text-anchor="middle" font-family="Liberation Serif" font-weight="bold" stroke="#000" stroke-width="0.25" >210</text>
<line x1="535.21" y1="339.05" x2="535.21" y2="341.85" stroke="#000" stroke-width="1.2"/>
<text x="535.21" y="351.8" font-size="10.1" text-anchor="middle" font-family="Liberation Serif" font-weight="bold" stroke="#000" stroke-width="0.25" >240</text>
<line x1="310.9" y1="198.80" x2="313.7" y2="198.80" stroke="#000" stroke-width="1.2"/>
<text x="309" y="202.20" font-size="9.8" text-anchor="end" font-family="Liberation Serif" font-weight="bold" stroke="#000" stroke-width="0.25" >0.0</text>
<line x1="310.9" y1="224.40" x2="313.7" y2="224.40" stroke="#000" stroke-width="1.2"/>
<text x="309" y="227.80" font-size="9.8" text-anchor="end" font-family="Liberation Serif" font-weight="bold" stroke="#000" stroke-width="0.25" >-0.5</text>
<line x1="310.9" y1="250.00" x2="313.7" y2="250.00" stroke="#000" stroke-width="1.2"/>
<text x="309" y="253.40" font-size="9.8" text-anchor="end" font-family="Liberation Serif" font-weight="bold" stroke="#000" stroke-width="0.25" >-1.0</text>
<line x1="310.9" y1="275.60" x2="313.7" y2="275.60" stroke="#000" stroke-width="1.2"/>
<text x="309" y="279.00" font-size="9.8" text-anchor="end" font-family="Liberation Serif" font-weight="bold" stroke="#000" stroke-width="0.25" >-1.5</text>
<line x1="310.9" y1="301.20" x2="313.7" y2="301.20" stroke="#000" stroke-width="1.2"/>
<text x="309" y="304.60" font-size="9.8" text-anchor="end" font-family="Liberation Serif" font-weight="bold" stroke="#000" stroke-width="0.25" >-2.0</text>
<line x1="310.9" y1="326.80" x2="313.7" y2="326.80" stroke="#000" stroke-width="1.2"/>
<text x="309" y="330.20" font-size="9.8" text-anchor="end" font-family="Liberation Serif" font-weight="bold" stroke="#000" stroke-width="0.25" >-2.5</text>
<text x="427.3" y="370.3" font-size="12.6" text-anchor="middle" font-family="Liberation Serif" font-weight="bold" stroke="#000" stroke-width="0.25" >Time (min)</text>
<text x="315.8" y="243.6" font-size="16.2" text-anchor="start" font-family="Liberation Serif" font-weight="bold" stroke="#000" stroke-width="0.25" >(d)</text>
<circle cx="321.20" cy="280.30" r="2.76" fill="#fff" stroke="#000" stroke-width="0.8"/><path d="M318.44,280.60 A2.76,2.76 0 0 1 323.96,280.60 Z" fill="#000"/>
<text x="335.4" y="283.80" font-size="10" text-anchor="start" font-family="Liberation Serif" font-weight="bold" stroke="#000" stroke-width="0.25" >RB dye</text>
<text x="367.5" y="284.50" font-size="11.6" text-anchor="start" font-family="Liberation Serif" font-weight="bold" stroke="#000" stroke-width="0.25" >(k=0.0001641 min<tspan font-size="6.5" dy="-4">-1</tspan><tspan dy="4">)</tspan></text>
<path d="M321.20,289.20 L324.51,292.70 L321.20,296.20 L317.89,292.70 Z" fill="#fff" stroke="#ff2020" stroke-width="0.8"/>
<text x="335.4" y="296.20" font-size="10" text-anchor="start" font-family="Liberation Serif" font-weight="bold" stroke="#000" stroke-width="0.25" >Pure paint</text>
<text x="383.4" y="296.90" font-size="11.6" text-anchor="start" font-family="Liberation Serif" font-weight="bold" stroke="#000" stroke-width="0.25" >(k=0.0002772 min<tspan font-size="6.5" dy="-4">-1</tspan><tspan dy="4">)</tspan></text>
<path d="M321.20,301.88 L322.01,303.98 L324.26,304.10 L322.51,305.53 L323.09,307.71 L321.20,306.48 L319.31,307.71 L319.89,305.53 L318.14,304.10 L320.39,303.98 Z" fill="#fff" stroke="#1010ff" stroke-width="0.8"/>
<text x="335.4" y="308.60" font-size="10" text-anchor="start" font-family="Liberation Serif" font-weight="bold" stroke="#000" stroke-width="0.25" >Unpoled sample</text>
<text x="406.7" y="309.30" font-size="11.6" text-anchor="start" font-family="Liberation Serif" font-weight="bold" stroke="#000" stroke-width="0.25" >(k=0.0005295 min<tspan font-size="6.5" dy="-4">-1</tspan><tspan dy="4">)</tspan></text>
<path d="M321.20,314.19 L324.35,316.48 L323.15,320.18 L319.25,320.18 L318.05,316.48 Z" fill="#fff" stroke="#228b22" stroke-width="0.8"/>
<text x="335.4" y="321.00" font-size="10" text-anchor="start" font-family="Liberation Serif" font-weight="bold" stroke="#000" stroke-width="0.25" >Poling before mixing</text>
<text x="425.7" y="321.70" font-size="11.6" text-anchor="start" font-family="Liberation Serif" font-weight="bold" stroke="#000" stroke-width="0.25" >(k=0.00599 min<tspan font-size="6.5" dy="-4">-1</tspan><tspan dy="4">)</tspan></text>
<circle cx="321.20" cy="329.90" r="3.06" fill="#ff8418"/><circle cx="320.40" cy="329.00" r="0.9" fill="#fff" opacity="0.7"/>
<text x="335.4" y="333.40" font-size="10" text-anchor="start" font-family="Liberation Serif" font-weight="bold" stroke="#000" stroke-width="0.25" >Poling after mixing</text>
<text x="427.5" y="334.10" font-size="11.6" text-anchor="start" font-family="Liberation Serif" font-weight="bold" stroke="#000" stroke-width="0.25" >(k=0.01012 min<tspan font-size="6.5" dy="-4">-1</tspan><tspan dy="4">)</tspan></text>
<text transform="translate(285.9,283.8) rotate(-90)" font-size="11.4" font-family="Liberation Serif" font-weight="bold" stroke="#000" stroke-width="0.25">ln(C/C<tspan font-size="7.5" dy="3">o</tspan><tspan dy="-3">)</tspan></text>
</svg>
</body></html>
